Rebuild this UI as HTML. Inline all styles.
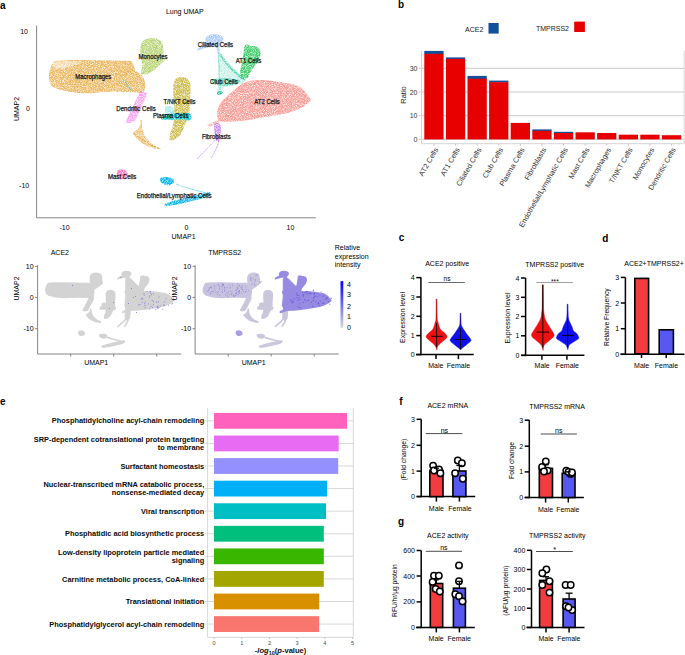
<!DOCTYPE html><html><head><meta charset="utf-8"><style>html,body{margin:0;padding:0;background:#fff;overflow:hidden;width:685px;height:655px;}svg{display:block;}text{font-family:"Liberation Sans", sans-serif;}</style></head><body>
<svg width="685" height="655" viewBox="0 0 685 655">
<rect width="685" height="655" fill="#fff"/>
<text x="0" y="8.5" font-size="10" text-anchor="start" font-weight="bold" fill="#000">a</text>
<text x="184.8" y="14.4" font-size="7" text-anchor="middle" font-weight="normal" fill="#000">Lung UMAP</text>
<line x1="36.6" y1="25.6" x2="36.6" y2="217.8" stroke="#777" stroke-width="0.9"/>
<line x1="36.6" y1="217.8" x2="315.8" y2="217.8" stroke="#777" stroke-width="0.9"/>
<text x="28" y="34" font-size="7" text-anchor="end" font-weight="normal" fill="#000">10</text>
<text x="29.8" y="110.7" font-size="7" text-anchor="end" font-weight="normal" fill="#000">0</text>
<text x="29.2" y="188.4" font-size="7" text-anchor="end" font-weight="normal" fill="#000">-10</text>
<text x="64.5" y="229.5" font-size="7" text-anchor="middle" font-weight="normal" fill="#000">-10</text>
<text x="186.5" y="229.5" font-size="7" text-anchor="middle" font-weight="normal" fill="#000">0</text>
<text x="290.4" y="229.5" font-size="7" text-anchor="middle" font-weight="normal" fill="#000">10</text>
<text x="183.6" y="238.5" font-size="7" text-anchor="middle" font-weight="normal" fill="#000">UMAP1</text>
<text x="19.2" y="109" font-size="7" text-anchor="middle" font-weight="normal" fill="#000" transform="rotate(-90 19.2 109)">UMAP2</text>
<defs><filter id="spk" x="30" y="20" width="300" height="200" filterUnits="userSpaceOnUse" color-interpolation-filters="sRGB"><feTurbulence type="fractalNoise" baseFrequency="1.1" numOctaves="2" seed="7" result="n"/><feColorMatrix in="n" type="matrix" values="0 0 0 0 0  0 0 0 0 0  0 0 0 0 0  2.2 0 0 0 -0.35" result="a"/><feGaussianBlur in="SourceGraphic" stdDeviation="0.45" result="b"/><feComposite in="b" in2="a" operator="in"/></filter></defs>
<g filter="url(#spk)">
<path d="M55,61 C75,59 110,61 131,61 C134,64 135,68 135,71 C139,73 143,75 144,79 C146,84 146,90 143,93 C125,92 110,91 95,93 C80,94 65,92 55,88 C48,85 48,75 50,70 C51,66 52,63 55,61 Z" fill="#DE8C00" fill-opacity="0.62"/>
<path d="M54,62 C60,61 70,61 78,62 C76,65 70,67 62,68.5 C57,69 53,67.5 52,66 Z" fill="#ffffff" fill-opacity="0.5"/>
<path d="M152.5,38 C158,38 162,41 163,45 C164,50 163,54 164,57 C166,59 165,61 162,63 C158,67 153,71 148,74 L141,74.5 C141.5,70 142.5,66 142,62 C140.5,58 140,52 140.5,47 C141,41 146,38 152.5,38 Z" fill="#7CAE00" fill-opacity="0.55"/>
<path d="M207,36 C211,33.5 218,33.5 222,36 C224.5,38.5 223,42 220,44 C219,47 219.5,51 219.5,54 L218,54 C217.5,50 216.5,47 214,46 C209,46 203,49 197,50.5 C197.5,48 201,46.5 206,44.5 C205,41 205,38 207,36 Z" fill="#619CFF" fill-opacity="0.55"/>
<path d="M217.5,53 L220,53 C226,60 233,67 241,75 C244,78 246,80 244,83 C238,85 230,86 224,87 L222,92 L217,94 C218,85 219,75 218.5,65 C218,60 217.5,56 217.5,53 Z" fill="#00C08B" fill-opacity="0.22"/>
<path d="M212,79 C222,78 232,78 240,80 C240,83 236,85 228,86 C220,86 214,85 212,83 Z" fill="#00C08B" fill-opacity="0.5"/>
<path d="M217,91.5 C219,90.5 222,91 223,92.5 C222,94.5 219,95 217,94.5 Z" fill="#00C08B" fill-opacity="0.9"/>
<path d="M245,45 C247,44 250,45 251,46.5 C254,45.5 258,46 259.5,49 C261,52 261,56 259,59 C257.5,62.5 255,66 252,69.5 C250,72 249,75 248,78 L241,79 C239.5,75 240,70 241.5,65 C243,60 243.5,54 244,49 C244,47 244.5,45.5 245,45 Z" fill="#00BA38" fill-opacity="0.75"/>
<path d="M222,101 C228,95 236,88 243,83 C250,80 258,79.5 268,80.5 C282,82 292,83.5 298,86 C304,89 308,95 311,100 C306,106 298,110 288,113 C272,116 256,119 240,121 C230,122 224,122 219,121 C216,117 216,108 222,101 Z" fill="#F8766D" fill-opacity="0.72"/>
<path d="M181,77 C186,77 190,79.5 190.5,85 C191,93 189.5,102 189.5,110 C189.5,116 186,122 183.6,128 C182,133 180,136 177,138 C174,140 171,141 169.5,140 C169,136 171,131 172.5,127 C174,121 174.5,114 174,106 C173.5,98 173,90 173.5,84 C174.5,79 177,77 181,77 Z" fill="#B79F00" fill-opacity="0.7"/>
<path d="M165,107 C168,105 173,106 174,109 L174,113 L165,113 Z" fill="#00BFC4" fill-opacity="0.35"/>
<path d="M161,115 C168,113 178,113 186,113 C190,112.5 192,115 191.5,118 C191,121 188,121 185,119.5 C176,119.5 167,120 161,119.5 Z" fill="#00BFC4" fill-opacity="1.0"/>
<path d="M141,124 L142,128 C143,133 146,138 150,142 C153,145 157,147 161,149 C155,149.5 148,147 143,144 C138,140 134,136 132.5,133 C136,131 139,128 141,124 Z" fill="#DE8C00" fill-opacity="0.5"/>
<path d="M140,91.5 L147,93 L146,97 L135,121 L129,123.5 L125.5,122 Z" fill="#F564E3" fill-opacity="0.58"/>
<path d="M214,124 C217,122 221,123 221,127 C221,133 220,137 219,141 L216,141 C215,136 214,130 214,124 Z" fill="#C77CFF" fill-opacity="0.95"/>
<path d="M118,170 C122,168 127,170 128,174 C129,178 124,180 120,179 C116,178 116,172 118,170 Z" fill="#FF64B0" fill-opacity="0.9"/>
<path d="M160,178 C165,176 172,177 174,180 C175,184 170,186 166,185 C162,184 159,181 160,178 Z" fill="#00B4F0" fill-opacity="1.0"/>
<path d="M164,204 C175,200 195,195 210,192 C212,194 208,197 200,199 C188,202 175,206 165,206 Z" fill="#00B4F0" fill-opacity="0.95"/>
<path d="M220,54 C224,61 230,68 237,74 C240,77 243,79 246,80" fill="none" stroke="#00C08B" stroke-opacity="0.55" stroke-width="2.2"/>
<path d="M218.5,55 C219,66 219.5,78 220,90" fill="none" stroke="#00C08B" stroke-opacity="0.35" stroke-width="1.5"/>
<path d="M141,120 L141.3,127 M133.5,133 C139,138 149,145 160.5,148.8" fill="none" stroke="#DE8C00" stroke-opacity="0.8" stroke-width="0.9"/>
<path d="M219,140 C218,146 215,152 211,158" fill="none" stroke="#C77CFF" stroke-opacity="0.9" stroke-width="1.0"/>
<path d="M216,139 C210,146 203,153 197,159" fill="none" stroke="#C77CFF" stroke-opacity="0.8" stroke-width="0.8"/>
<path d="M176,184 C185,188 196,190 206,193" fill="none" stroke="#00B4F0" stroke-opacity="0.7" stroke-width="0.8"/>
<path d="M219,121 L208,126" fill="none" stroke="#F8766D" stroke-opacity="0.5" stroke-width="3"/>
<path d="M124,80 L131,90" fill="none" stroke="#00BFC4" stroke-opacity="0.6" stroke-width="1.2"/>
</g>
<text x="93.3" y="78.8" font-size="7" text-anchor="middle" font-weight="normal" fill="#111" textLength="36.0" lengthAdjust="spacingAndGlyphs" stroke="#111" stroke-width="0.25">Macrophages</text>
<text x="153.0" y="59.4" font-size="7" text-anchor="middle" font-weight="normal" fill="#111" textLength="29.0" lengthAdjust="spacingAndGlyphs" stroke="#111" stroke-width="0.25">Monocytes</text>
<text x="215.5" y="47.2" font-size="7" text-anchor="middle" font-weight="normal" fill="#111" textLength="35.3" lengthAdjust="spacingAndGlyphs" stroke="#111" stroke-width="0.25">Ciliated Cells</text>
<text x="248.5" y="63.2" font-size="7" text-anchor="middle" font-weight="normal" fill="#111" textLength="25.4" lengthAdjust="spacingAndGlyphs" stroke="#111" stroke-width="0.25">AT1 Cells</text>
<text x="223.9" y="84.2" font-size="7" text-anchor="middle" font-weight="normal" fill="#111" textLength="27.599999999999998" lengthAdjust="spacingAndGlyphs" stroke="#111" stroke-width="0.25">Club Cells</text>
<text x="267" y="103.7" font-size="7" text-anchor="middle" font-weight="normal" fill="#111" textLength="25.4" lengthAdjust="spacingAndGlyphs" stroke="#111" stroke-width="0.25">AT2 Cells</text>
<text x="179.5" y="103.7" font-size="7" text-anchor="middle" font-weight="normal" fill="#111" textLength="32.1" lengthAdjust="spacingAndGlyphs" stroke="#111" stroke-width="0.25">T/NKT Cells</text>
<text x="136" y="111.3" font-size="7" text-anchor="middle" font-weight="normal" fill="#111" textLength="39.4" lengthAdjust="spacingAndGlyphs" stroke="#111" stroke-width="0.25">Dendritic Cells</text>
<text x="170.7" y="117.7" font-size="7" text-anchor="middle" font-weight="normal" fill="#111" textLength="35.5" lengthAdjust="spacingAndGlyphs" stroke="#111" stroke-width="0.25">Plasma Cells</text>
<text x="216.3" y="139.2" font-size="7" text-anchor="middle" font-weight="normal" fill="#111" textLength="28.7" lengthAdjust="spacingAndGlyphs" stroke="#111" stroke-width="0.25">Fibroblasts</text>
<text x="122.1" y="179.2" font-size="7" text-anchor="middle" font-weight="normal" fill="#111" textLength="28.4" lengthAdjust="spacingAndGlyphs" stroke="#111" stroke-width="0.25">Mast Cells</text>
<text x="174.2" y="198.4" font-size="7" text-anchor="middle" font-weight="normal" fill="#111" textLength="75.0" lengthAdjust="spacingAndGlyphs" stroke="#111" stroke-width="0.25">Endothelial/Lymphatic Cells</text>
<text x="50.7" y="255.3" font-size="7" text-anchor="start" font-weight="normal" fill="#000">ACE2</text>
<line x1="37.6" y1="265.2" x2="37.6" y2="354" stroke="#777" stroke-width="0.9"/>
<line x1="37.6" y1="354" x2="181.2" y2="354" stroke="#777" stroke-width="0.9"/>
<line x1="35.1" y1="266.4" x2="37.6" y2="266.4" stroke="#777" stroke-width="0.9"/>
<text x="33.6" y="268.9" font-size="7" text-anchor="end" font-weight="normal" fill="#000">10</text>
<line x1="35.1" y1="297.4" x2="37.6" y2="297.4" stroke="#777" stroke-width="0.9"/>
<text x="33.6" y="299.9" font-size="7" text-anchor="end" font-weight="normal" fill="#000">0</text>
<line x1="35.1" y1="328.7" x2="37.6" y2="328.7" stroke="#777" stroke-width="0.9"/>
<text x="33.6" y="331.2" font-size="7" text-anchor="end" font-weight="normal" fill="#000">-10</text>
<line x1="70.7" y1="354" x2="70.7" y2="356.5" stroke="#777" stroke-width="0.9"/>
<line x1="113.7" y1="354" x2="113.7" y2="356.5" stroke="#777" stroke-width="0.9"/>
<line x1="156.7" y1="354" x2="156.7" y2="356.5" stroke="#777" stroke-width="0.9"/>
<text x="96.2" y="365.2" font-size="7" text-anchor="middle" font-weight="normal" fill="#000">UMAP1</text>
<text x="19.3" y="288.5" font-size="7" text-anchor="middle" font-weight="normal" fill="#000" transform="rotate(-90 19.3 288.5)">UMAP2</text>
<g transform="matrix(0.487,0,0,0.44,22.0,256.54)">
<path d="M213,50 L223,50 C233,62 243,72 252,80 L232,95 L224,108 L216,122 L211,112 L213,92 Z" fill="#d3d3d3" stroke="#d3d3d3" stroke-width="2" stroke-linejoin="round"/>
<path d="M216,104 L226,100 L230,118 L222,124 L212,126 Z" fill="#d3d3d3" stroke="#d3d3d3" stroke-width="2" stroke-linejoin="round"/>
<path d="M212,124 L222,124 L221,140 L216,146 L212,140 Z" fill="#d3d3d3" stroke="#d3d3d3" stroke-width="2" stroke-linejoin="round"/>
<path d="M132,60 L146,62 L148,80 L146,94 L138,96 L134,80 Z" fill="#d3d3d3" stroke="#d3d3d3" stroke-width="2" stroke-linejoin="round"/>
<path d="M55,61 C75,59 110,61 131,61 C134,64 135,68 135,71 C139,73 143,75 144,79 C146,84 146,90 143,93 C125,92 110,91 95,93 C80,94 65,92 55,88 C48,85 48,75 50,70 C51,66 52,63 55,61 Z" fill="#d3d3d3" stroke="#d3d3d3" stroke-width="3" stroke-linejoin="round"/>
<path d="M54,62 C60,61 70,61 78,62 C76,65 70,67 62,68.5 C57,69 53,67.5 52,66 Z" fill="#d3d3d3" stroke="#d3d3d3" stroke-width="3" stroke-linejoin="round"/>
<path d="M152.5,38 C158,38 162,41 163,45 C164,50 163,54 164,57 C166,59 165,61 162,63 C158,67 153,71 148,74 L141,74.5 C141.5,70 142.5,66 142,62 C140.5,58 140,52 140.5,47 C141,41 146,38 152.5,38 Z" fill="#d3d3d3" stroke="#d3d3d3" stroke-width="3" stroke-linejoin="round"/>
<path d="M207,36 C211,33.5 218,33.5 222,36 C224.5,38.5 223,42 220,44 C219,47 219.5,51 219.5,54 L218,54 C217.5,50 216.5,47 214,46 C209,46 203,49 197,50.5 C197.5,48 201,46.5 206,44.5 C205,41 205,38 207,36 Z" fill="#d3d3d3" stroke="#d3d3d3" stroke-width="3" stroke-linejoin="round"/>
<path d="M217.5,53 L220,53 C226,60 233,67 241,75 C244,78 246,80 244,83 C238,85 230,86 224,87 L222,92 L217,94 C218,85 219,75 218.5,65 C218,60 217.5,56 217.5,53 Z" fill="#d3d3d3" stroke="#d3d3d3" stroke-width="3" stroke-linejoin="round"/>
<path d="M212,79 C222,78 232,78 240,80 C240,83 236,85 228,86 C220,86 214,85 212,83 Z" fill="#d3d3d3" stroke="#d3d3d3" stroke-width="3" stroke-linejoin="round"/>
<path d="M217,91.5 C219,90.5 222,91 223,92.5 C222,94.5 219,95 217,94.5 Z" fill="#d3d3d3" stroke="#d3d3d3" stroke-width="3" stroke-linejoin="round"/>
<path d="M245,45 C247,44 250,45 251,46.5 C254,45.5 258,46 259.5,49 C261,52 261,56 259,59 C257.5,62.5 255,66 252,69.5 C250,72 249,75 248,78 L241,79 C239.5,75 240,70 241.5,65 C243,60 243.5,54 244,49 C244,47 244.5,45.5 245,45 Z" fill="#d3d3d3" stroke="#d3d3d3" stroke-width="3" stroke-linejoin="round"/>
<path d="M222,101 C228,95 236,88 243,83 C250,80 258,79.5 268,80.5 C282,82 292,83.5 298,86 C304,89 308,95 311,100 C306,106 298,110 288,113 C272,116 256,119 240,121 C230,122 224,122 219,121 C216,117 216,108 222,101 Z" fill="#d3d3d3" stroke="#d3d3d3" stroke-width="3" stroke-linejoin="round"/>
<path d="M181,77 C186,77 190,79.5 190.5,85 C191,93 189.5,102 189.5,110 C189.5,116 186,122 183.6,128 C182,133 180,136 177,138 C174,140 171,141 169.5,140 C169,136 171,131 172.5,127 C174,121 174.5,114 174,106 C173.5,98 173,90 173.5,84 C174.5,79 177,77 181,77 Z" fill="#d3d3d3" stroke="#d3d3d3" stroke-width="3" stroke-linejoin="round"/>
<path d="M165,107 C168,105 173,106 174,109 L174,113 L165,113 Z" fill="#d3d3d3" stroke="#d3d3d3" stroke-width="3" stroke-linejoin="round"/>
<path d="M161,115 C168,113 178,113 186,113 C190,112.5 192,115 191.5,118 C191,121 188,121 185,119.5 C176,119.5 167,120 161,119.5 Z" fill="#d3d3d3" stroke="#d3d3d3" stroke-width="3" stroke-linejoin="round"/>
<path d="M141,124 L142,128 C143,133 146,138 150,142 C153,145 157,147 161,149 C155,149.5 148,147 143,144 C138,140 134,136 132.5,133 C136,131 139,128 141,124 Z" fill="#d3d3d3" stroke="#d3d3d3" stroke-width="3" stroke-linejoin="round"/>
<path d="M140,91.5 L147,93 L146,97 L135,121 L129,123.5 L125.5,122 Z" fill="#d3d3d3" stroke="#d3d3d3" stroke-width="3" stroke-linejoin="round"/>
<path d="M214,124 C217,122 221,123 221,127 C221,133 220,137 219,141 L216,141 C215,136 214,130 214,124 Z" fill="#d3d3d3" stroke="#d3d3d3" stroke-width="3" stroke-linejoin="round"/>
<path d="M118,170 C122,168 127,170 128,174 C129,178 124,180 120,179 C116,178 116,172 118,170 Z" fill="#d3d3d3" stroke="#d3d3d3" stroke-width="3" stroke-linejoin="round"/>
<path d="M160,178 C165,176 172,177 174,180 C175,184 170,186 166,185 C162,184 159,181 160,178 Z" fill="#d3d3d3" stroke="#d3d3d3" stroke-width="3" stroke-linejoin="round"/>
<path d="M164,204 C175,200 195,195 210,192 C212,194 208,197 200,199 C188,202 175,206 165,206 Z" fill="#d3d3d3" stroke="#d3d3d3" stroke-width="3" stroke-linejoin="round"/>
<path d="M220,54 C224,61 230,68 237,74 C240,77 243,79 246,80" fill="none" stroke="#d3d3d3" stroke-width="4.7" stroke-linecap="round"/>
<path d="M218.5,55 C219,66 219.5,78 220,90" fill="none" stroke="#d3d3d3" stroke-width="4.0" stroke-linecap="round"/>
<path d="M141,120 L141.3,127 M133.5,133 C139,138 149,145 160.5,148.8" fill="none" stroke="#d3d3d3" stroke-width="3.4" stroke-linecap="round"/>
<path d="M219,140 C218,146 215,152 211,158" fill="none" stroke="#d3d3d3" stroke-width="3.5" stroke-linecap="round"/>
<path d="M216,139 C210,146 203,153 197,159" fill="none" stroke="#d3d3d3" stroke-width="3.3" stroke-linecap="round"/>
<path d="M176,184 C185,188 196,190 206,193" fill="none" stroke="#d3d3d3" stroke-width="3.3" stroke-linecap="round"/>
<path d="M219,121 L208,126" fill="none" stroke="#d3d3d3" stroke-width="5.5" stroke-linecap="round"/>
</g>
<rect x="156.7" y="306.3" width="0.9" height="0.9" fill="#6b5bd6" fill-opacity="0.8"/>
<rect x="171.4" y="303.5" width="0.9" height="0.9" fill="#6b5bd6" fill-opacity="0.8"/>
<rect x="149.6" y="291.4" width="0.9" height="0.9" fill="#6b5bd6" fill-opacity="0.8"/>
<rect x="153.0" y="301.2" width="0.9" height="0.9" fill="#6b5bd6" fill-opacity="0.8"/>
<rect x="152.8" y="304.3" width="0.9" height="0.9" fill="#6b5bd6" fill-opacity="0.8"/>
<rect x="169.1" y="293.0" width="0.9" height="0.9" fill="#6b5bd6" fill-opacity="0.8"/>
<rect x="141.9" y="302.1" width="0.9" height="0.9" fill="#6b5bd6" fill-opacity="0.8"/>
<rect x="143.5" y="293.3" width="0.9" height="0.9" fill="#6b5bd6" fill-opacity="0.8"/>
<rect x="165.7" y="298.4" width="0.9" height="0.9" fill="#6b5bd6" fill-opacity="0.8"/>
<rect x="142.5" y="298.4" width="0.9" height="0.9" fill="#6b5bd6" fill-opacity="0.8"/>
<rect x="144.8" y="301.4" width="0.9" height="0.9" fill="#6b5bd6" fill-opacity="0.8"/>
<rect x="143.8" y="294.6" width="0.9" height="0.9" fill="#6b5bd6" fill-opacity="0.8"/>
<rect x="152.1" y="307.3" width="0.9" height="0.9" fill="#6b5bd6" fill-opacity="0.8"/>
<rect x="153.1" y="293.4" width="0.9" height="0.9" fill="#6b5bd6" fill-opacity="0.8"/>
<rect x="173.4" y="300.0" width="0.9" height="0.9" fill="#6b5bd6" fill-opacity="0.8"/>
<rect x="146.7" y="291.1" width="0.9" height="0.9" fill="#6b5bd6" fill-opacity="0.8"/>
<rect x="155.3" y="308.8" width="0.9" height="0.9" fill="#6b5bd6" fill-opacity="0.8"/>
<rect x="149.0" y="296.7" width="0.9" height="0.9" fill="#6b5bd6" fill-opacity="0.8"/>
<rect x="157.0" y="307.6" width="0.9" height="0.9" fill="#6b5bd6" fill-opacity="0.8"/>
<rect x="132.9" y="297.0" width="0.9" height="0.9" fill="#6b5bd6" fill-opacity="0.8"/>
<rect x="141.6" y="297.6" width="0.9" height="0.9" fill="#6b5bd6" fill-opacity="0.8"/>
<rect x="172.9" y="297.6" width="0.9" height="0.9" fill="#6b5bd6" fill-opacity="0.8"/>
<rect x="150.5" y="305.9" width="0.9" height="0.9" fill="#6b5bd6" fill-opacity="0.8"/>
<rect x="150.0" y="292.7" width="0.9" height="0.9" fill="#6b5bd6" fill-opacity="0.8"/>
<rect x="172.2" y="302.8" width="0.9" height="0.9" fill="#6b5bd6" fill-opacity="0.8"/>
<rect x="151.0" y="294.2" width="0.9" height="0.9" fill="#6b5bd6" fill-opacity="0.8"/>
<rect x="144.6" y="307.6" width="0.9" height="0.9" fill="#6b5bd6" fill-opacity="0.8"/>
<rect x="163.6" y="304.8" width="0.9" height="0.9" fill="#6b5bd6" fill-opacity="0.8"/>
<rect x="158.5" y="306.8" width="0.9" height="0.9" fill="#6b5bd6" fill-opacity="0.8"/>
<rect x="144.7" y="305.1" width="0.9" height="0.9" fill="#6b5bd6" fill-opacity="0.8"/>
<rect x="140.9" y="298.6" width="0.9" height="0.9" fill="#6b5bd6" fill-opacity="0.8"/>
<rect x="163.4" y="304.7" width="0.9" height="0.9" fill="#6b5bd6" fill-opacity="0.8"/>
<rect x="157.9" y="301.4" width="0.9" height="0.9" fill="#6b5bd6" fill-opacity="0.8"/>
<rect x="139.5" y="304.1" width="0.9" height="0.9" fill="#6b5bd6" fill-opacity="0.8"/>
<rect x="149.3" y="308.5" width="0.9" height="0.9" fill="#6b5bd6" fill-opacity="0.8"/>
<rect x="157.8" y="307.9" width="0.9" height="0.9" fill="#6b5bd6" fill-opacity="0.8"/>
<rect x="144.0" y="303.3" width="0.9" height="0.9" fill="#6b5bd6" fill-opacity="0.8"/>
<rect x="161.9" y="308.8" width="0.9" height="0.9" fill="#6b5bd6" fill-opacity="0.8"/>
<rect x="168.0" y="304.7" width="0.9" height="0.9" fill="#6b5bd6" fill-opacity="0.8"/>
<rect x="151.8" y="299.9" width="0.9" height="0.9" fill="#6b5bd6" fill-opacity="0.8"/>
<rect x="171.1" y="298.3" width="0.9" height="0.9" fill="#6b5bd6" fill-opacity="0.8"/>
<rect x="159.8" y="305.6" width="0.9" height="0.9" fill="#6b5bd6" fill-opacity="0.8"/>
<rect x="163.9" y="301.4" width="0.9" height="0.9" fill="#6b5bd6" fill-opacity="0.8"/>
<rect x="158.6" y="296.6" width="0.9" height="0.9" fill="#6b5bd6" fill-opacity="0.8"/>
<rect x="156.7" y="307.2" width="0.9" height="0.9" fill="#6b5bd6" fill-opacity="0.8"/>
<rect x="157.3" y="305.6" width="0.9" height="0.9" fill="#6b5bd6" fill-opacity="0.8"/>
<rect x="148.3" y="303.5" width="0.9" height="0.9" fill="#6b5bd6" fill-opacity="0.8"/>
<rect x="138.1" y="304.6" width="0.9" height="0.9" fill="#6b5bd6" fill-opacity="0.8"/>
<rect x="149.7" y="290.8" width="0.9" height="0.9" fill="#6b5bd6" fill-opacity="0.8"/>
<rect x="149.4" y="295.4" width="0.9" height="0.9" fill="#6b5bd6" fill-opacity="0.8"/>
<rect x="156.1" y="301.7" width="0.9" height="0.9" fill="#6b5bd6" fill-opacity="0.8"/>
<rect x="120.5" y="277.0" width="0.9" height="0.9" fill="#6b5bd6" fill-opacity="0.8"/>
<rect x="131.0" y="288.0" width="0.9" height="0.9" fill="#6b5bd6" fill-opacity="0.8"/>
<rect x="135.0" y="296.0" width="0.9" height="0.9" fill="#6b5bd6" fill-opacity="0.8"/>
<rect x="72.0" y="285.0" width="0.9" height="0.9" fill="#6b5bd6" fill-opacity="0.8"/>
<rect x="109.0" y="308.0" width="0.9" height="0.9" fill="#6b5bd6" fill-opacity="0.8"/>
<rect x="113.0" y="302.0" width="0.9" height="0.9" fill="#6b5bd6" fill-opacity="0.8"/>
<rect x="128.0" y="303.0" width="0.9" height="0.9" fill="#6b5bd6" fill-opacity="0.8"/>
<rect x="136.0" y="312.0" width="0.9" height="0.9" fill="#6b5bd6" fill-opacity="0.8"/>
<text x="208.2" y="255.3" font-size="7" text-anchor="start" font-weight="normal" fill="#000">TMPRSS2</text>
<line x1="195.1" y1="265.2" x2="195.1" y2="354" stroke="#777" stroke-width="0.9"/>
<line x1="195.1" y1="354" x2="338.7" y2="354" stroke="#777" stroke-width="0.9"/>
<line x1="192.6" y1="266.4" x2="195.1" y2="266.4" stroke="#777" stroke-width="0.9"/>
<text x="191.1" y="268.9" font-size="7" text-anchor="end" font-weight="normal" fill="#000">10</text>
<line x1="192.6" y1="297.4" x2="195.1" y2="297.4" stroke="#777" stroke-width="0.9"/>
<text x="191.1" y="299.9" font-size="7" text-anchor="end" font-weight="normal" fill="#000">0</text>
<line x1="192.6" y1="328.7" x2="195.1" y2="328.7" stroke="#777" stroke-width="0.9"/>
<text x="191.1" y="331.2" font-size="7" text-anchor="end" font-weight="normal" fill="#000">-10</text>
<line x1="228.2" y1="354" x2="228.2" y2="356.5" stroke="#777" stroke-width="0.9"/>
<line x1="271.2" y1="354" x2="271.2" y2="356.5" stroke="#777" stroke-width="0.9"/>
<line x1="314.2" y1="354" x2="314.2" y2="356.5" stroke="#777" stroke-width="0.9"/>
<text x="253.7" y="365.2" font-size="7" text-anchor="middle" font-weight="normal" fill="#000">UMAP1</text>
<text x="176.8" y="288.5" font-size="7" text-anchor="middle" font-weight="normal" fill="#000" transform="rotate(-90 176.8 288.5)">UMAP2</text>
<g transform="matrix(0.487,0,0,0.44,179.5,256.54)">
<path d="M213,50 L223,50 C233,62 243,72 252,80 L232,95 L224,108 L216,122 L211,112 L213,92 Z" fill="#968ae2" stroke="#968ae2" stroke-width="2" stroke-linejoin="round"/>
<path d="M216,104 L226,100 L230,118 L222,124 L212,126 Z" fill="#968ae2" stroke="#968ae2" stroke-width="2" stroke-linejoin="round"/>
<path d="M212,124 L222,124 L221,140 L216,146 L212,140 Z" fill="#cac7dc" stroke="#cac7dc" stroke-width="2" stroke-linejoin="round"/>
<path d="M132,60 L146,62 L148,80 L146,94 L138,96 L134,80 Z" fill="#c8c3df" stroke="#c8c3df" stroke-width="2" stroke-linejoin="round"/>
<path d="M55,61 C75,59 110,61 131,61 C134,64 135,68 135,71 C139,73 143,75 144,79 C146,84 146,90 143,93 C125,92 110,91 95,93 C80,94 65,92 55,88 C48,85 48,75 50,70 C51,66 52,63 55,61 Z" fill="#c8c3df" stroke="#c8c3df" stroke-width="3" stroke-linejoin="round"/>
<path d="M54,62 C60,61 70,61 78,62 C76,65 70,67 62,68.5 C57,69 53,67.5 52,66 Z" fill="#c8c3df" stroke="#c8c3df" stroke-width="3" stroke-linejoin="round"/>
<path d="M152.5,38 C158,38 162,41 163,45 C164,50 163,54 164,57 C166,59 165,61 162,63 C158,67 153,71 148,74 L141,74.5 C141.5,70 142.5,66 142,62 C140.5,58 140,52 140.5,47 C141,41 146,38 152.5,38 Z" fill="#cac7dc" stroke="#cac7dc" stroke-width="3" stroke-linejoin="round"/>
<path d="M207,36 C211,33.5 218,33.5 222,36 C224.5,38.5 223,42 220,44 C219,47 219.5,51 219.5,54 L218,54 C217.5,50 216.5,47 214,46 C209,46 203,49 197,50.5 C197.5,48 201,46.5 206,44.5 C205,41 205,38 207,36 Z" fill="#968ae2" stroke="#968ae2" stroke-width="3" stroke-linejoin="round"/>
<path d="M217.5,53 L220,53 C226,60 233,67 241,75 C244,78 246,80 244,83 C238,85 230,86 224,87 L222,92 L217,94 C218,85 219,75 218.5,65 C218,60 217.5,56 217.5,53 Z" fill="#968ae2" stroke="#968ae2" stroke-width="3" stroke-linejoin="round"/>
<path d="M212,79 C222,78 232,78 240,80 C240,83 236,85 228,86 C220,86 214,85 212,83 Z" fill="#968ae2" stroke="#968ae2" stroke-width="3" stroke-linejoin="round"/>
<path d="M217,91.5 C219,90.5 222,91 223,92.5 C222,94.5 219,95 217,94.5 Z" fill="#968ae2" stroke="#968ae2" stroke-width="3" stroke-linejoin="round"/>
<path d="M245,45 C247,44 250,45 251,46.5 C254,45.5 258,46 259.5,49 C261,52 261,56 259,59 C257.5,62.5 255,66 252,69.5 C250,72 249,75 248,78 L241,79 C239.5,75 240,70 241.5,65 C243,60 243.5,54 244,49 C244,47 244.5,45.5 245,45 Z" fill="#968ae2" stroke="#968ae2" stroke-width="3" stroke-linejoin="round"/>
<path d="M222,101 C228,95 236,88 243,83 C250,80 258,79.5 268,80.5 C282,82 292,83.5 298,86 C304,89 308,95 311,100 C306,106 298,110 288,113 C272,116 256,119 240,121 C230,122 224,122 219,121 C216,117 216,108 222,101 Z" fill="#968ae2" stroke="#968ae2" stroke-width="3" stroke-linejoin="round"/>
<path d="M181,77 C186,77 190,79.5 190.5,85 C191,93 189.5,102 189.5,110 C189.5,116 186,122 183.6,128 C182,133 180,136 177,138 C174,140 171,141 169.5,140 C169,136 171,131 172.5,127 C174,121 174.5,114 174,106 C173.5,98 173,90 173.5,84 C174.5,79 177,77 181,77 Z" fill="#cac7dc" stroke="#cac7dc" stroke-width="3" stroke-linejoin="round"/>
<path d="M165,107 C168,105 173,106 174,109 L174,113 L165,113 Z" fill="#cac7dc" stroke="#cac7dc" stroke-width="3" stroke-linejoin="round"/>
<path d="M161,115 C168,113 178,113 186,113 C190,112.5 192,115 191.5,118 C191,121 188,121 185,119.5 C176,119.5 167,120 161,119.5 Z" fill="#cac7dc" stroke="#cac7dc" stroke-width="3" stroke-linejoin="round"/>
<path d="M141,124 L142,128 C143,133 146,138 150,142 C153,145 157,147 161,149 C155,149.5 148,147 143,144 C138,140 134,136 132.5,133 C136,131 139,128 141,124 Z" fill="#cac7dc" stroke="#cac7dc" stroke-width="3" stroke-linejoin="round"/>
<path d="M140,91.5 L147,93 L146,97 L135,121 L129,123.5 L125.5,122 Z" fill="#cac7dc" stroke="#cac7dc" stroke-width="3" stroke-linejoin="round"/>
<path d="M214,124 C217,122 221,123 221,127 C221,133 220,137 219,141 L216,141 C215,136 214,130 214,124 Z" fill="#cac7dc" stroke="#cac7dc" stroke-width="3" stroke-linejoin="round"/>
<path d="M118,170 C122,168 127,170 128,174 C129,178 124,180 120,179 C116,178 116,172 118,170 Z" fill="#a79de4" stroke="#a79de4" stroke-width="3" stroke-linejoin="round"/>
<path d="M160,178 C165,176 172,177 174,180 C175,184 170,186 166,185 C162,184 159,181 160,178 Z" fill="#cac7dc" stroke="#cac7dc" stroke-width="3" stroke-linejoin="round"/>
<path d="M164,204 C175,200 195,195 210,192 C212,194 208,197 200,199 C188,202 175,206 165,206 Z" fill="#cac7dc" stroke="#cac7dc" stroke-width="3" stroke-linejoin="round"/>
<path d="M220,54 C224,61 230,68 237,74 C240,77 243,79 246,80" fill="none" stroke="#968ae2" stroke-width="4.7" stroke-linecap="round"/>
<path d="M218.5,55 C219,66 219.5,78 220,90" fill="none" stroke="#968ae2" stroke-width="4.0" stroke-linecap="round"/>
<path d="M141,120 L141.3,127 M133.5,133 C139,138 149,145 160.5,148.8" fill="none" stroke="#c8c4dd" stroke-width="3.4" stroke-linecap="round"/>
<path d="M219,140 C218,146 215,152 211,158" fill="none" stroke="#c8c4dd" stroke-width="3.5" stroke-linecap="round"/>
<path d="M216,139 C210,146 203,153 197,159" fill="none" stroke="#c8c4dd" stroke-width="3.3" stroke-linecap="round"/>
<path d="M176,184 C185,188 196,190 206,193" fill="none" stroke="#c8c4dd" stroke-width="3.3" stroke-linecap="round"/>
<path d="M219,121 L208,126" fill="none" stroke="#968ae2" stroke-width="5.5" stroke-linecap="round"/>
</g>
<rect x="298.3" y="295.1" width="0.9" height="0.9" fill="#5a48dc" fill-opacity="0.85"/>
<rect x="310.6" y="292.9" width="0.9" height="0.9" fill="#5a48dc" fill-opacity="0.85"/>
<rect x="323.2" y="295.4" width="0.9" height="0.9" fill="#5a48dc" fill-opacity="0.85"/>
<rect x="322.9" y="302.6" width="0.9" height="0.9" fill="#5a48dc" fill-opacity="0.85"/>
<rect x="312.9" y="300.0" width="0.9" height="0.9" fill="#5a48dc" fill-opacity="0.85"/>
<rect x="313.5" y="293.2" width="0.9" height="0.9" fill="#5a48dc" fill-opacity="0.85"/>
<rect x="290.5" y="300.1" width="0.9" height="0.9" fill="#5a48dc" fill-opacity="0.85"/>
<rect x="302.8" y="295.8" width="0.9" height="0.9" fill="#5a48dc" fill-opacity="0.85"/>
<rect x="312.9" y="290.3" width="0.9" height="0.9" fill="#5a48dc" fill-opacity="0.85"/>
<rect x="330.6" y="297.9" width="0.9" height="0.9" fill="#5a48dc" fill-opacity="0.85"/>
<rect x="304.6" y="292.2" width="0.9" height="0.9" fill="#5a48dc" fill-opacity="0.85"/>
<rect x="330.8" y="297.7" width="0.9" height="0.9" fill="#5a48dc" fill-opacity="0.85"/>
<rect x="298.7" y="297.3" width="0.9" height="0.9" fill="#5a48dc" fill-opacity="0.85"/>
<rect x="291.1" y="301.9" width="0.9" height="0.9" fill="#5a48dc" fill-opacity="0.85"/>
<rect x="305.9" y="291.4" width="0.9" height="0.9" fill="#5a48dc" fill-opacity="0.85"/>
<rect x="313.5" y="297.2" width="0.9" height="0.9" fill="#5a48dc" fill-opacity="0.85"/>
<rect x="315.2" y="301.3" width="0.9" height="0.9" fill="#5a48dc" fill-opacity="0.85"/>
<rect x="320.5" y="291.6" width="0.9" height="0.9" fill="#5a48dc" fill-opacity="0.85"/>
<rect x="310.0" y="292.8" width="0.9" height="0.9" fill="#5a48dc" fill-opacity="0.85"/>
<rect x="299.2" y="299.0" width="0.9" height="0.9" fill="#5a48dc" fill-opacity="0.85"/>
<rect x="306.9" y="293.6" width="0.9" height="0.9" fill="#5a48dc" fill-opacity="0.85"/>
<rect x="319.8" y="300.9" width="0.9" height="0.9" fill="#5a48dc" fill-opacity="0.85"/>
<rect x="326.3" y="299.5" width="0.9" height="0.9" fill="#5a48dc" fill-opacity="0.85"/>
<rect x="305.2" y="300.4" width="0.9" height="0.9" fill="#5a48dc" fill-opacity="0.85"/>
<rect x="318.1" y="302.2" width="0.9" height="0.9" fill="#5a48dc" fill-opacity="0.85"/>
<rect x="303.2" y="294.5" width="0.9" height="0.9" fill="#5a48dc" fill-opacity="0.85"/>
<rect x="317.5" y="295.9" width="0.9" height="0.9" fill="#5a48dc" fill-opacity="0.85"/>
<rect x="298.7" y="307.0" width="0.9" height="0.9" fill="#5a48dc" fill-opacity="0.85"/>
<rect x="307.5" y="299.6" width="0.9" height="0.9" fill="#5a48dc" fill-opacity="0.85"/>
<rect x="308.4" y="292.6" width="0.9" height="0.9" fill="#5a48dc" fill-opacity="0.85"/>
<rect x="292.6" y="300.7" width="0.9" height="0.9" fill="#5a48dc" fill-opacity="0.85"/>
<rect x="321.9" y="303.2" width="0.9" height="0.9" fill="#5a48dc" fill-opacity="0.85"/>
<rect x="292.4" y="301.5" width="0.9" height="0.9" fill="#5a48dc" fill-opacity="0.85"/>
<rect x="312.0" y="305.8" width="0.9" height="0.9" fill="#5a48dc" fill-opacity="0.85"/>
<rect x="305.4" y="292.1" width="0.9" height="0.9" fill="#5a48dc" fill-opacity="0.85"/>
<rect x="313.1" y="297.7" width="0.9" height="0.9" fill="#5a48dc" fill-opacity="0.85"/>
<rect x="292.5" y="302.2" width="0.9" height="0.9" fill="#5a48dc" fill-opacity="0.85"/>
<rect x="311.0" y="301.9" width="0.9" height="0.9" fill="#5a48dc" fill-opacity="0.85"/>
<rect x="297.6" y="299.7" width="0.9" height="0.9" fill="#5a48dc" fill-opacity="0.85"/>
<rect x="297.2" y="306.0" width="0.9" height="0.9" fill="#5a48dc" fill-opacity="0.85"/>
<rect x="296.3" y="293.9" width="0.9" height="0.9" fill="#5a48dc" fill-opacity="0.85"/>
<rect x="318.3" y="303.0" width="0.9" height="0.9" fill="#5a48dc" fill-opacity="0.85"/>
<rect x="312.8" y="289.6" width="0.9" height="0.9" fill="#5a48dc" fill-opacity="0.85"/>
<rect x="325.8" y="297.4" width="0.9" height="0.9" fill="#5a48dc" fill-opacity="0.85"/>
<rect x="300.4" y="307.5" width="0.9" height="0.9" fill="#5a48dc" fill-opacity="0.85"/>
<rect x="329.3" y="303.8" width="0.9" height="0.9" fill="#5a48dc" fill-opacity="0.85"/>
<rect x="314.2" y="293.3" width="0.9" height="0.9" fill="#5a48dc" fill-opacity="0.85"/>
<rect x="296.3" y="292.7" width="0.9" height="0.9" fill="#5a48dc" fill-opacity="0.85"/>
<rect x="313.7" y="293.2" width="0.9" height="0.9" fill="#5a48dc" fill-opacity="0.85"/>
<rect x="323.7" y="302.7" width="0.9" height="0.9" fill="#5a48dc" fill-opacity="0.85"/>
<rect x="322.5" y="295.9" width="0.9" height="0.9" fill="#5a48dc" fill-opacity="0.85"/>
<rect x="324.7" y="298.6" width="0.9" height="0.9" fill="#5a48dc" fill-opacity="0.85"/>
<rect x="312.8" y="300.3" width="0.9" height="0.9" fill="#5a48dc" fill-opacity="0.85"/>
<rect x="319.5" y="294.7" width="0.9" height="0.9" fill="#5a48dc" fill-opacity="0.85"/>
<rect x="326.4" y="297.4" width="0.9" height="0.9" fill="#5a48dc" fill-opacity="0.85"/>
<rect x="314.0" y="295.7" width="0.9" height="0.9" fill="#5a48dc" fill-opacity="0.85"/>
<rect x="302.7" y="294.3" width="0.9" height="0.9" fill="#5a48dc" fill-opacity="0.85"/>
<rect x="296.3" y="297.4" width="0.9" height="0.9" fill="#5a48dc" fill-opacity="0.85"/>
<rect x="317.1" y="303.6" width="0.9" height="0.9" fill="#5a48dc" fill-opacity="0.85"/>
<rect x="298.9" y="303.6" width="0.9" height="0.9" fill="#5a48dc" fill-opacity="0.85"/>
<rect x="302.3" y="292.0" width="0.9" height="0.9" fill="#5a48dc" fill-opacity="0.85"/>
<rect x="307.0" y="291.1" width="0.9" height="0.9" fill="#5a48dc" fill-opacity="0.85"/>
<rect x="319.2" y="305.0" width="0.9" height="0.9" fill="#5a48dc" fill-opacity="0.85"/>
<rect x="315.2" y="295.8" width="0.9" height="0.9" fill="#5a48dc" fill-opacity="0.85"/>
<rect x="309.4" y="293.2" width="0.9" height="0.9" fill="#5a48dc" fill-opacity="0.85"/>
<rect x="326.8" y="297.7" width="0.9" height="0.9" fill="#5a48dc" fill-opacity="0.85"/>
<rect x="297.2" y="295.0" width="0.9" height="0.9" fill="#5a48dc" fill-opacity="0.85"/>
<rect x="293.8" y="298.3" width="0.9" height="0.9" fill="#5a48dc" fill-opacity="0.85"/>
<rect x="304.0" y="299.0" width="0.9" height="0.9" fill="#5a48dc" fill-opacity="0.85"/>
<rect x="290.5" y="299.3" width="0.9" height="0.9" fill="#5a48dc" fill-opacity="0.85"/>
<rect x="327.9" y="301.1" width="0.9" height="0.9" fill="#5a48dc" fill-opacity="0.85"/>
<rect x="307.9" y="300.3" width="0.9" height="0.9" fill="#5a48dc" fill-opacity="0.85"/>
<rect x="302.8" y="302.0" width="0.9" height="0.9" fill="#5a48dc" fill-opacity="0.85"/>
<rect x="219.0" y="288.7" width="0.8" height="0.8" fill="#7465d8" fill-opacity="0.7"/>
<rect x="241.9" y="285.4" width="0.8" height="0.8" fill="#7465d8" fill-opacity="0.7"/>
<rect x="210.6" y="286.7" width="0.8" height="0.8" fill="#7465d8" fill-opacity="0.7"/>
<rect x="241.6" y="286.7" width="0.8" height="0.8" fill="#7465d8" fill-opacity="0.7"/>
<rect x="224.4" y="290.7" width="0.8" height="0.8" fill="#7465d8" fill-opacity="0.7"/>
<rect x="214.3" y="286.3" width="0.8" height="0.8" fill="#7465d8" fill-opacity="0.7"/>
<rect x="221.9" y="283.5" width="0.8" height="0.8" fill="#7465d8" fill-opacity="0.7"/>
<rect x="224.0" y="286.7" width="0.8" height="0.8" fill="#7465d8" fill-opacity="0.7"/>
<rect x="238.6" y="290.3" width="0.8" height="0.8" fill="#7465d8" fill-opacity="0.7"/>
<rect x="244.9" y="291.8" width="0.8" height="0.8" fill="#7465d8" fill-opacity="0.7"/>
<rect x="238.9" y="290.6" width="0.8" height="0.8" fill="#7465d8" fill-opacity="0.7"/>
<rect x="225.0" y="294.3" width="0.8" height="0.8" fill="#7465d8" fill-opacity="0.7"/>
<rect x="237.5" y="292.5" width="0.8" height="0.8" fill="#7465d8" fill-opacity="0.7"/>
<rect x="217.3" y="294.2" width="0.8" height="0.8" fill="#7465d8" fill-opacity="0.7"/>
<rect x="222.3" y="284.0" width="0.8" height="0.8" fill="#7465d8" fill-opacity="0.7"/>
<rect x="217.1" y="292.1" width="0.8" height="0.8" fill="#7465d8" fill-opacity="0.7"/>
<rect x="239.1" y="290.4" width="0.8" height="0.8" fill="#7465d8" fill-opacity="0.7"/>
<rect x="211.2" y="287.4" width="0.8" height="0.8" fill="#7465d8" fill-opacity="0.7"/>
<rect x="232.4" y="285.5" width="0.8" height="0.8" fill="#7465d8" fill-opacity="0.7"/>
<rect x="224.4" y="287.4" width="0.8" height="0.8" fill="#7465d8" fill-opacity="0.7"/>
<rect x="231.2" y="294.4" width="0.8" height="0.8" fill="#7465d8" fill-opacity="0.7"/>
<rect x="237.5" y="283.4" width="0.8" height="0.8" fill="#7465d8" fill-opacity="0.7"/>
<rect x="228.8" y="284.6" width="0.8" height="0.8" fill="#7465d8" fill-opacity="0.7"/>
<rect x="236.7" y="288.7" width="0.8" height="0.8" fill="#7465d8" fill-opacity="0.7"/>
<rect x="210.7" y="286.8" width="0.8" height="0.8" fill="#7465d8" fill-opacity="0.7"/>
<rect x="245.8" y="288.9" width="0.8" height="0.8" fill="#7465d8" fill-opacity="0.7"/>
<rect x="224.6" y="288.6" width="0.8" height="0.8" fill="#7465d8" fill-opacity="0.7"/>
<rect x="231.7" y="283.6" width="0.8" height="0.8" fill="#7465d8" fill-opacity="0.7"/>
<rect x="241.3" y="288.3" width="0.8" height="0.8" fill="#7465d8" fill-opacity="0.7"/>
<rect x="206.9" y="290.7" width="0.8" height="0.8" fill="#7465d8" fill-opacity="0.7"/>
<rect x="226.7" y="295.2" width="0.8" height="0.8" fill="#7465d8" fill-opacity="0.7"/>
<rect x="222.8" y="285.2" width="0.8" height="0.8" fill="#7465d8" fill-opacity="0.7"/>
<rect x="217.7" y="285.0" width="0.8" height="0.8" fill="#7465d8" fill-opacity="0.7"/>
<rect x="230.2" y="287.4" width="0.8" height="0.8" fill="#7465d8" fill-opacity="0.7"/>
<rect x="238.5" y="285.6" width="0.8" height="0.8" fill="#7465d8" fill-opacity="0.7"/>
<rect x="221.0" y="285.7" width="0.8" height="0.8" fill="#7465d8" fill-opacity="0.7"/>
<rect x="242.9" y="291.3" width="0.8" height="0.8" fill="#7465d8" fill-opacity="0.7"/>
<rect x="223.1" y="284.1" width="0.8" height="0.8" fill="#7465d8" fill-opacity="0.7"/>
<rect x="242.1" y="289.4" width="0.8" height="0.8" fill="#7465d8" fill-opacity="0.7"/>
<rect x="209.8" y="292.8" width="0.8" height="0.8" fill="#7465d8" fill-opacity="0.7"/>
<rect x="240.6" y="286.9" width="0.8" height="0.8" fill="#7465d8" fill-opacity="0.7"/>
<rect x="235.5" y="294.9" width="0.8" height="0.8" fill="#7465d8" fill-opacity="0.7"/>
<rect x="232.9" y="294.0" width="0.8" height="0.8" fill="#7465d8" fill-opacity="0.7"/>
<rect x="228.0" y="290.8" width="0.8" height="0.8" fill="#7465d8" fill-opacity="0.7"/>
<rect x="213.6" y="287.8" width="0.8" height="0.8" fill="#7465d8" fill-opacity="0.7"/>
<rect x="219.2" y="287.7" width="0.8" height="0.8" fill="#7465d8" fill-opacity="0.7"/>
<rect x="226.4" y="292.6" width="0.8" height="0.8" fill="#7465d8" fill-opacity="0.7"/>
<rect x="236.0" y="292.1" width="0.8" height="0.8" fill="#7465d8" fill-opacity="0.7"/>
<rect x="229.1" y="294.0" width="0.8" height="0.8" fill="#7465d8" fill-opacity="0.7"/>
<rect x="221.5" y="290.9" width="0.8" height="0.8" fill="#7465d8" fill-opacity="0.7"/>
<rect x="235.4" y="289.8" width="0.8" height="0.8" fill="#7465d8" fill-opacity="0.7"/>
<rect x="209.3" y="287.3" width="0.8" height="0.8" fill="#7465d8" fill-opacity="0.7"/>
<rect x="231.0" y="293.4" width="0.8" height="0.8" fill="#7465d8" fill-opacity="0.7"/>
<rect x="236.9" y="286.6" width="0.8" height="0.8" fill="#7465d8" fill-opacity="0.7"/>
<rect x="238.6" y="292.0" width="0.8" height="0.8" fill="#7465d8" fill-opacity="0.7"/>
<rect x="235.8" y="294.6" width="0.8" height="0.8" fill="#7465d8" fill-opacity="0.7"/>
<rect x="238.0" y="291.2" width="0.8" height="0.8" fill="#7465d8" fill-opacity="0.7"/>
<rect x="214.7" y="289.8" width="0.8" height="0.8" fill="#7465d8" fill-opacity="0.7"/>
<rect x="248.4" y="290.2" width="0.8" height="0.8" fill="#7465d8" fill-opacity="0.7"/>
<rect x="222.7" y="284.7" width="0.8" height="0.8" fill="#7465d8" fill-opacity="0.7"/>
<rect x="234.2" y="295.5" width="0.8" height="0.8" fill="#7465d8" fill-opacity="0.7"/>
<rect x="245.5" y="291.2" width="0.8" height="0.8" fill="#7465d8" fill-opacity="0.7"/>
<rect x="222.5" y="283.6" width="0.8" height="0.8" fill="#7465d8" fill-opacity="0.7"/>
<rect x="235.8" y="290.3" width="0.8" height="0.8" fill="#7465d8" fill-opacity="0.7"/>
<rect x="237.0" y="287.6" width="0.8" height="0.8" fill="#7465d8" fill-opacity="0.7"/>
<rect x="218.9" y="286.0" width="0.8" height="0.8" fill="#7465d8" fill-opacity="0.7"/>
<rect x="232.9" y="295.5" width="0.8" height="0.8" fill="#7465d8" fill-opacity="0.7"/>
<rect x="212.9" y="291.5" width="0.8" height="0.8" fill="#7465d8" fill-opacity="0.7"/>
<rect x="239.2" y="285.4" width="0.8" height="0.8" fill="#7465d8" fill-opacity="0.7"/>
<rect x="208.3" y="290.5" width="0.8" height="0.8" fill="#7465d8" fill-opacity="0.7"/>
<rect x="237.5" y="288.3" width="0.8" height="0.8" fill="#7465d8" fill-opacity="0.7"/>
<rect x="224.2" y="289.9" width="0.8" height="0.8" fill="#7465d8" fill-opacity="0.7"/>
<rect x="245.3" y="286.5" width="0.8" height="0.8" fill="#7465d8" fill-opacity="0.7"/>
<rect x="217.9" y="291.1" width="0.8" height="0.8" fill="#7465d8" fill-opacity="0.7"/>
<rect x="230.3" y="291.1" width="0.8" height="0.8" fill="#7465d8" fill-opacity="0.7"/>
<rect x="213.6" y="284.9" width="0.8" height="0.8" fill="#7465d8" fill-opacity="0.7"/>
<rect x="231.7" y="291.7" width="0.8" height="0.8" fill="#7465d8" fill-opacity="0.7"/>
<rect x="235.9" y="292.9" width="0.8" height="0.8" fill="#7465d8" fill-opacity="0.7"/>
<rect x="208.2" y="289.3" width="0.8" height="0.8" fill="#7465d8" fill-opacity="0.7"/>
<rect x="219.5" y="294.8" width="0.8" height="0.8" fill="#7465d8" fill-opacity="0.7"/>
<rect x="233.9" y="295.9" width="0.8" height="0.8" fill="#7465d8" fill-opacity="0.7"/>
<rect x="215.6" y="292.5" width="0.8" height="0.8" fill="#7465d8" fill-opacity="0.7"/>
<rect x="242.5" y="289.2" width="0.8" height="0.8" fill="#7465d8" fill-opacity="0.7"/>
<rect x="212.2" y="291.2" width="0.8" height="0.8" fill="#7465d8" fill-opacity="0.7"/>
<rect x="210.1" y="293.4" width="0.8" height="0.8" fill="#7465d8" fill-opacity="0.7"/>
<rect x="237.9" y="294.2" width="0.8" height="0.8" fill="#7465d8" fill-opacity="0.7"/>
<rect x="240.9" y="292.7" width="0.8" height="0.8" fill="#7465d8" fill-opacity="0.7"/>
<rect x="222.0" y="288.9" width="0.8" height="0.8" fill="#7465d8" fill-opacity="0.7"/>
<rect x="235.4" y="293.1" width="0.8" height="0.8" fill="#7465d8" fill-opacity="0.7"/>
<rect x="209.2" y="288.0" width="0.8" height="0.8" fill="#7465d8" fill-opacity="0.7"/>
<rect x="229.4" y="287.6" width="0.8" height="0.8" fill="#7465d8" fill-opacity="0.7"/>
<rect x="210.7" y="291.0" width="0.8" height="0.8" fill="#7465d8" fill-opacity="0.7"/>
<rect x="222.0" y="292.3" width="0.8" height="0.8" fill="#7465d8" fill-opacity="0.7"/>
<rect x="227.3" y="296.4" width="0.8" height="0.8" fill="#7465d8" fill-opacity="0.7"/>
<rect x="238.9" y="292.8" width="0.8" height="0.8" fill="#7465d8" fill-opacity="0.7"/>
<rect x="218.5" y="283.8" width="0.8" height="0.8" fill="#7465d8" fill-opacity="0.7"/>
<rect x="226.6" y="287.3" width="0.8" height="0.8" fill="#7465d8" fill-opacity="0.7"/>
<rect x="222.3" y="286.4" width="0.8" height="0.8" fill="#7465d8" fill-opacity="0.7"/>
<rect x="227.4" y="292.5" width="0.8" height="0.8" fill="#7465d8" fill-opacity="0.7"/>
<rect x="259.0" y="281.5" width="0.8" height="0.8" fill="#7465d8" fill-opacity="0.7"/>
<rect x="253.1" y="278.4" width="0.8" height="0.8" fill="#7465d8" fill-opacity="0.7"/>
<rect x="259.7" y="280.8" width="0.8" height="0.8" fill="#7465d8" fill-opacity="0.7"/>
<rect x="250.1" y="279.5" width="0.8" height="0.8" fill="#7465d8" fill-opacity="0.7"/>
<rect x="252.4" y="282.7" width="0.8" height="0.8" fill="#7465d8" fill-opacity="0.7"/>
<rect x="250.4" y="277.5" width="0.8" height="0.8" fill="#7465d8" fill-opacity="0.7"/>
<rect x="250.7" y="280.2" width="0.8" height="0.8" fill="#7465d8" fill-opacity="0.7"/>
<rect x="261.3" y="281.0" width="0.8" height="0.8" fill="#7465d8" fill-opacity="0.7"/>
<rect x="250.6" y="278.6" width="0.8" height="0.8" fill="#7465d8" fill-opacity="0.7"/>
<rect x="258.7" y="278.7" width="0.8" height="0.8" fill="#7465d8" fill-opacity="0.7"/>
<rect x="255.0" y="279.0" width="0.8" height="0.8" fill="#7465d8" fill-opacity="0.7"/>
<rect x="255.7" y="274.7" width="0.8" height="0.8" fill="#7465d8" fill-opacity="0.7"/>
<rect x="254.8" y="280.1" width="0.8" height="0.8" fill="#7465d8" fill-opacity="0.7"/>
<rect x="250.5" y="277.6" width="0.8" height="0.8" fill="#7465d8" fill-opacity="0.7"/>
<rect x="255.6" y="274.7" width="0.8" height="0.8" fill="#7465d8" fill-opacity="0.7"/>
<rect x="254.2" y="284.1" width="0.8" height="0.8" fill="#7465d8" fill-opacity="0.7"/>
<rect x="254.7" y="281.7" width="0.8" height="0.8" fill="#7465d8" fill-opacity="0.7"/>
<rect x="260.3" y="282.4" width="0.8" height="0.8" fill="#7465d8" fill-opacity="0.7"/>
<rect x="257.1" y="274.5" width="0.8" height="0.8" fill="#7465d8" fill-opacity="0.7"/>
<rect x="254.5" y="285.4" width="0.8" height="0.8" fill="#7465d8" fill-opacity="0.7"/>
<rect x="251.3" y="284.2" width="0.8" height="0.8" fill="#7465d8" fill-opacity="0.7"/>
<text x="334.8" y="250.4" font-size="7" text-anchor="start" font-weight="normal" fill="#000">Relative</text>
<text x="334.8" y="258.7" font-size="7" text-anchor="start" font-weight="normal" fill="#000">expression</text>
<text x="334.8" y="267.1" font-size="7" text-anchor="start" font-weight="normal" fill="#000">intensity</text>
<defs><linearGradient id="cb" x1="0" y1="1" x2="0" y2="0"><stop offset="0" stop-color="#d9d9d9"/><stop offset="1" stop-color="#0000ff"/></linearGradient></defs>
<rect x="340.5" y="281.2" width="2.8" height="46.6" fill="url(#cb)" stroke="none" stroke-width="0"/>
<text x="347" y="330" font-size="7" text-anchor="start" font-weight="normal" fill="#000">0</text>
<text x="347" y="319" font-size="7" text-anchor="start" font-weight="normal" fill="#000">1</text>
<text x="347" y="308.7" font-size="7" text-anchor="start" font-weight="normal" fill="#000">2</text>
<text x="347" y="297.2" font-size="7" text-anchor="start" font-weight="normal" fill="#000">3</text>
<text x="347" y="286.6" font-size="7" text-anchor="start" font-weight="normal" fill="#000">4</text>
<text x="398" y="8" font-size="10" text-anchor="start" font-weight="bold" fill="#000">b</text>
<text x="465.1" y="31.7" font-size="7" text-anchor="start" font-weight="normal" fill="#222">ACE2</text>
<rect x="488.5" y="23" width="10.2" height="10.6" fill="#11509b" stroke="none" stroke-width="0"/>
<text x="535.9" y="30.7" font-size="7" text-anchor="start" font-weight="normal" fill="#222">TMPRSS2</text>
<rect x="574.2" y="21.6" width="10.7" height="10.4" fill="#e60000" stroke="none" stroke-width="0"/>
<line x1="421.5" y1="139.4" x2="684" y2="139.4" stroke="#c4c4c4" stroke-width="0.9"/>
<line x1="418.8" y1="139.4" x2="421.5" y2="139.4" stroke="#c4c4c4" stroke-width="0.9"/>
<text x="417.5" y="141.9" font-size="7" text-anchor="end" font-weight="normal" fill="#333">0</text>
<line x1="421.5" y1="115.7" x2="684" y2="115.7" stroke="#c4c4c4" stroke-width="0.9"/>
<line x1="418.8" y1="115.7" x2="421.5" y2="115.7" stroke="#c4c4c4" stroke-width="0.9"/>
<text x="417.5" y="118.2" font-size="7" text-anchor="end" font-weight="normal" fill="#333">10</text>
<line x1="421.5" y1="92.0" x2="684" y2="92.0" stroke="#c4c4c4" stroke-width="0.9"/>
<line x1="418.8" y1="92.0" x2="421.5" y2="92.0" stroke="#c4c4c4" stroke-width="0.9"/>
<text x="417.5" y="94.5" font-size="7" text-anchor="end" font-weight="normal" fill="#333">20</text>
<line x1="421.5" y1="68.3" x2="684" y2="68.3" stroke="#c4c4c4" stroke-width="0.9"/>
<line x1="418.8" y1="68.3" x2="421.5" y2="68.3" stroke="#c4c4c4" stroke-width="0.9"/>
<text x="417.5" y="70.8" font-size="7" text-anchor="end" font-weight="normal" fill="#333">30</text>
<line x1="421.5" y1="50.7" x2="421.5" y2="144" stroke="#d0d0d0" stroke-width="0.9"/>
<line x1="421.5" y1="143.7" x2="684" y2="143.7" stroke="#d0d0d0" stroke-width="0.9"/>
<line x1="684.2" y1="50.7" x2="684.2" y2="144" stroke="#d0d0d0" stroke-width="0.9"/>
<text x="405.8" y="95" font-size="7.5" text-anchor="middle" font-weight="normal" fill="#222" transform="rotate(-90 405.8 95)">Ratio</text>
<rect x="424.3" y="50.9" width="19.3" height="3.1999999999999984" fill="#11509b" stroke="none" stroke-width="0"/>
<rect x="424.3" y="53.8" width="19.3" height="85.60000000000001" fill="#e60000" stroke="none" stroke-width="0"/>
<line x1="433.95" y1="143.7" x2="433.95" y2="145.6" stroke="#bbb" stroke-width="0.9"/>
<text x="438.55" y="149.5" font-size="7.4" text-anchor="end" font-weight="normal" fill="#333" transform="rotate(-60 438.55 149.5)">AT2 Cells</text>
<rect x="445.90000000000003" y="57.4" width="19.3" height="1.8" fill="#11509b" stroke="none" stroke-width="0"/>
<rect x="445.90000000000003" y="58.9" width="19.3" height="80.5" fill="#e60000" stroke="none" stroke-width="0"/>
<line x1="455.55" y1="143.7" x2="455.55" y2="145.6" stroke="#bbb" stroke-width="0.9"/>
<text x="460.15" y="149.5" font-size="7.4" text-anchor="end" font-weight="normal" fill="#333" transform="rotate(-60 460.15 149.5)">AT1 Cells</text>
<rect x="467.5" y="75.9" width="19.3" height="3.099999999999997" fill="#11509b" stroke="none" stroke-width="0"/>
<rect x="467.5" y="78.7" width="19.3" height="60.7" fill="#e60000" stroke="none" stroke-width="0"/>
<line x1="477.15" y1="143.7" x2="477.15" y2="145.6" stroke="#bbb" stroke-width="0.9"/>
<text x="481.75" y="149.5" font-size="7.4" text-anchor="end" font-weight="normal" fill="#333" transform="rotate(-60 481.75 149.5)">Ciliated Cells</text>
<rect x="489.1" y="80.6" width="19.3" height="1.9000000000000086" fill="#11509b" stroke="none" stroke-width="0"/>
<rect x="489.1" y="82.2" width="19.3" height="57.2" fill="#e60000" stroke="none" stroke-width="0"/>
<line x1="498.75" y1="143.7" x2="498.75" y2="145.6" stroke="#bbb" stroke-width="0.9"/>
<text x="503.35" y="149.5" font-size="7.4" text-anchor="end" font-weight="normal" fill="#333" transform="rotate(-60 503.35 149.5)">Club Cells</text>
<rect x="510.70000000000005" y="122.9" width="19.3" height="16.5" fill="#e60000" stroke="none" stroke-width="0"/>
<line x1="520.35" y1="143.7" x2="520.35" y2="145.6" stroke="#bbb" stroke-width="0.9"/>
<text x="524.95" y="149.5" font-size="7.4" text-anchor="end" font-weight="normal" fill="#333" transform="rotate(-60 524.95 149.5)">Plasma Cells</text>
<rect x="532.3" y="129.4" width="19.3" height="1.7000000000000057" fill="#11509b" stroke="none" stroke-width="0"/>
<rect x="532.3" y="130.8" width="19.3" height="8.599999999999994" fill="#e60000" stroke="none" stroke-width="0"/>
<line x1="541.9499999999999" y1="143.7" x2="541.9499999999999" y2="145.6" stroke="#bbb" stroke-width="0.9"/>
<text x="546.55" y="149.5" font-size="7.4" text-anchor="end" font-weight="normal" fill="#333" transform="rotate(-60 546.55 149.5)">Fibroblasts</text>
<rect x="553.9000000000001" y="131.8" width="19.3" height="1.4999999999999887" fill="#11509b" stroke="none" stroke-width="0"/>
<rect x="553.9000000000001" y="133" width="19.3" height="6.400000000000006" fill="#e60000" stroke="none" stroke-width="0"/>
<line x1="563.5500000000001" y1="143.7" x2="563.5500000000001" y2="145.6" stroke="#bbb" stroke-width="0.9"/>
<text x="568.15" y="149.5" font-size="7.4" text-anchor="end" font-weight="normal" fill="#333" transform="rotate(-60 568.15 149.5)">Endothelial/Lymphatic Cells</text>
<rect x="575.5" y="132.3" width="19.3" height="7.099999999999994" fill="#e60000" stroke="none" stroke-width="0"/>
<line x1="585.15" y1="143.7" x2="585.15" y2="145.6" stroke="#bbb" stroke-width="0.9"/>
<text x="589.75" y="149.5" font-size="7.4" text-anchor="end" font-weight="normal" fill="#333" transform="rotate(-60 589.75 149.5)">Mast Cells</text>
<rect x="597.1" y="133" width="19.3" height="6.400000000000006" fill="#e60000" stroke="none" stroke-width="0"/>
<line x1="606.75" y1="143.7" x2="606.75" y2="145.6" stroke="#bbb" stroke-width="0.9"/>
<text x="611.35" y="149.5" font-size="7.4" text-anchor="end" font-weight="normal" fill="#333" transform="rotate(-60 611.35 149.5)">Macrophages</text>
<rect x="618.7" y="134.7" width="19.3" height="4.700000000000017" fill="#e60000" stroke="none" stroke-width="0"/>
<line x1="628.35" y1="143.7" x2="628.35" y2="145.6" stroke="#bbb" stroke-width="0.9"/>
<text x="632.95" y="149.5" font-size="7.4" text-anchor="end" font-weight="normal" fill="#333" transform="rotate(-60 632.95 149.5)">T/NKT Cells</text>
<rect x="640.3" y="134.7" width="19.3" height="4.700000000000017" fill="#e60000" stroke="none" stroke-width="0"/>
<line x1="649.9499999999999" y1="143.7" x2="649.9499999999999" y2="145.6" stroke="#bbb" stroke-width="0.9"/>
<text x="654.55" y="149.5" font-size="7.4" text-anchor="end" font-weight="normal" fill="#333" transform="rotate(-60 654.55 149.5)">Monocytes</text>
<rect x="661.9000000000001" y="135.2" width="19.3" height="4.200000000000017" fill="#e60000" stroke="none" stroke-width="0"/>
<line x1="671.5500000000001" y1="143.7" x2="671.5500000000001" y2="145.6" stroke="#bbb" stroke-width="0.9"/>
<text x="676.15" y="149.5" font-size="7.4" text-anchor="end" font-weight="normal" fill="#333" transform="rotate(-60 676.15 149.5)">Dendritic Cells</text>
<text x="398.8" y="241" font-size="10" text-anchor="start" font-weight="bold" fill="#000">c</text>
<text x="447.2" y="265.7" font-size="7" text-anchor="middle" font-weight="normal" fill="#000">ACE2 positive</text>
<line x1="420.9" y1="277.2" x2="420.9" y2="355.35" stroke="#000" stroke-width="1.5"/>
<line x1="416.29999999999995" y1="277.6" x2="420.9" y2="277.6" stroke="#000" stroke-width="1.5"/>
<text x="414.69999999999993" y="280.1" font-size="7" text-anchor="end" font-weight="normal" fill="#000">4</text>
<line x1="416.29999999999995" y1="297" x2="420.9" y2="297" stroke="#000" stroke-width="1.5"/>
<text x="414.69999999999993" y="299.5" font-size="7" text-anchor="end" font-weight="normal" fill="#000">3</text>
<line x1="416.29999999999995" y1="316.3" x2="420.9" y2="316.3" stroke="#000" stroke-width="1.5"/>
<text x="414.69999999999993" y="318.8" font-size="7" text-anchor="end" font-weight="normal" fill="#000">2</text>
<line x1="416.29999999999995" y1="335.6" x2="420.9" y2="335.6" stroke="#000" stroke-width="1.5"/>
<text x="414.69999999999993" y="338.1" font-size="7" text-anchor="end" font-weight="normal" fill="#000">1</text>
<line x1="416.29999999999995" y1="354.6" x2="420.9" y2="354.6" stroke="#000" stroke-width="1.5"/>
<text x="414.69999999999993" y="357.1" font-size="7" text-anchor="end" font-weight="normal" fill="#000">0</text>
<line x1="416" y1="354.6" x2="473.7" y2="354.6" stroke="#000" stroke-width="1.5"/>
<line x1="436" y1="354.6" x2="436" y2="359.1" stroke="#000" stroke-width="1.5"/>
<line x1="458.4" y1="354.6" x2="458.4" y2="359.1" stroke="#000" stroke-width="1.5"/>
<line x1="428.4" y1="282.5" x2="464.8" y2="282.5" stroke="#444" stroke-width="0.8"/>
<text x="447" y="280.9" font-size="6.5" text-anchor="middle" font-weight="normal" fill="#000">ns</text>
<text x="405" y="317.5" font-size="7" text-anchor="middle" font-weight="normal" fill="#000" transform="rotate(-90 405 317.5)">Expression level</text>
<path d="M436.95,299.00 C436.97,300.83 437.00,306.63 437.05,310.00 C437.10,313.37 437.11,317.23 437.25,319.20 C437.39,321.17 437.62,320.73 437.90,321.80 C438.18,322.87 438.47,324.32 438.90,325.60 C439.33,326.88 439.58,328.30 440.50,329.50 C441.42,330.70 443.30,331.60 444.40,332.80 C445.50,334.00 447.10,335.50 447.10,336.70 C447.10,337.90 445.50,338.92 444.40,340.00 C443.30,341.08 441.63,342.13 440.50,343.20 C439.37,344.27 438.20,345.32 437.60,346.40 C437.00,347.48 437.23,349.70 436.90,349.70 C436.57,349.70 436.30,347.48 435.60,346.40 C434.90,345.32 433.83,344.27 432.70,343.20 C431.57,342.13 429.90,341.08 428.80,340.00 C427.70,338.92 426.10,337.90 426.10,336.70 C426.10,335.50 427.70,334.00 428.80,332.80 C429.90,331.60 431.78,330.70 432.70,329.50 C433.62,328.30 433.87,326.88 434.30,325.60 C434.73,324.32 435.02,322.87 435.30,321.80 C435.58,320.73 435.81,321.17 435.95,319.20 C436.09,317.23 436.10,313.37 436.15,310.00 C436.20,306.63 436.23,300.83 436.25,299.00 Z" fill="#ee1111" stroke="#ee1111" stroke-width="0.5"/>
<line x1="436.6" y1="299" x2="436.6" y2="319.2" stroke="#3a0a0a" stroke-opacity="0.45" stroke-width="0.7"/>
<path d="M460.85,313.30 C460.87,314.42 460.89,318.15 460.95,320.00 C461.01,321.85 461.01,323.23 461.20,324.40 C461.39,325.57 461.68,326.15 462.10,327.00 C462.52,327.85 463.00,328.43 463.70,329.50 C464.40,330.57 465.37,332.10 466.30,333.40 C467.23,334.70 468.53,336.10 469.30,337.30 C470.07,338.50 471.18,339.52 470.90,340.60 C470.62,341.68 468.68,342.83 467.60,343.80 C466.52,344.77 465.37,345.63 464.40,346.40 C463.43,347.17 462.40,347.85 461.80,348.40 C461.20,348.95 461.23,349.70 460.80,349.70 C460.37,349.70 459.90,348.95 459.20,348.40 C458.50,347.85 457.57,347.17 456.60,346.40 C455.63,345.63 454.48,344.77 453.40,343.80 C452.32,342.83 450.38,341.68 450.10,340.60 C449.82,339.52 450.93,338.50 451.70,337.30 C452.47,336.10 453.77,334.70 454.70,333.40 C455.63,332.10 456.60,330.57 457.30,329.50 C458.00,328.43 458.48,327.85 458.90,327.00 C459.32,326.15 459.61,325.57 459.80,324.40 C459.99,323.23 459.99,321.85 460.05,320.00 C460.11,318.15 460.13,314.42 460.15,313.30 Z" fill="#1010ee" stroke="#1010ee" stroke-width="0.5"/>
<line x1="460.5" y1="313.3" x2="460.5" y2="324.4" stroke="#3a0a0a" stroke-opacity="0.45" stroke-width="0.7"/>
<line x1="431" y1="336.3" x2="442.7" y2="336.3" stroke="#000" stroke-width="0.9"/>
<line x1="436.6" y1="323" x2="436.6" y2="347.7" stroke="#000" stroke-width="0.9"/>
<line x1="454.4" y1="339.5" x2="466.1" y2="339.5" stroke="#000" stroke-width="0.9"/>
<line x1="460.5" y1="328.2" x2="460.5" y2="349" stroke="#000" stroke-width="0.9"/>
<text x="435.8" y="368.3" font-size="7" text-anchor="middle" font-weight="normal" fill="#000">Male</text>
<text x="458.5" y="368.3" font-size="7" text-anchor="middle" font-weight="normal" fill="#000">Female</text>
<text x="554.7" y="266.7" font-size="7" text-anchor="middle" font-weight="normal" fill="#000">TMPRSS2 positive</text>
<line x1="525.6" y1="278" x2="525.6" y2="356.15" stroke="#000" stroke-width="1.5"/>
<line x1="521.0" y1="278" x2="525.6" y2="278" stroke="#000" stroke-width="1.5"/>
<text x="519.4" y="280.5" font-size="7" text-anchor="end" font-weight="normal" fill="#000">4</text>
<line x1="521.0" y1="297.3" x2="525.6" y2="297.3" stroke="#000" stroke-width="1.5"/>
<text x="519.4" y="299.8" font-size="7" text-anchor="end" font-weight="normal" fill="#000">3</text>
<line x1="521.0" y1="316.5" x2="525.6" y2="316.5" stroke="#000" stroke-width="1.5"/>
<text x="519.4" y="319.0" font-size="7" text-anchor="end" font-weight="normal" fill="#000">2</text>
<line x1="521.0" y1="335.8" x2="525.6" y2="335.8" stroke="#000" stroke-width="1.5"/>
<text x="519.4" y="338.3" font-size="7" text-anchor="end" font-weight="normal" fill="#000">1</text>
<line x1="521.0" y1="355.4" x2="525.6" y2="355.4" stroke="#000" stroke-width="1.5"/>
<text x="519.4" y="357.9" font-size="7" text-anchor="end" font-weight="normal" fill="#000">0</text>
<line x1="521.4" y1="355.2" x2="584.4" y2="355.2" stroke="#000" stroke-width="1.5"/>
<line x1="541.9" y1="355.2" x2="541.9" y2="359.7" stroke="#000" stroke-width="1.5"/>
<line x1="566.9" y1="355.2" x2="566.9" y2="359.7" stroke="#000" stroke-width="1.5"/>
<line x1="536.4" y1="282.5" x2="573" y2="282.5" stroke="#888" stroke-width="0.8"/>
<text x="554.9" y="283.6" font-size="6.5" text-anchor="middle" font-weight="normal" fill="#000">***</text>
<text x="509.8" y="318" font-size="7" text-anchor="middle" font-weight="normal" fill="#000" transform="rotate(-90 509.8 318)">Expression level</text>
<path d="M543.15,284.70 C543.17,286.58 543.25,292.20 543.30,296.00 C543.35,299.80 543.32,304.50 543.45,307.50 C543.58,310.50 543.82,312.08 544.10,314.00 C544.37,315.92 544.45,317.27 545.10,319.00 C545.75,320.73 546.98,322.65 548.00,324.40 C549.02,326.15 550.18,327.67 551.20,329.50 C552.22,331.33 554.32,333.65 554.10,335.40 C553.88,337.15 551.35,338.60 549.90,340.00 C548.45,341.40 546.45,342.72 545.40,343.80 C544.35,344.88 543.98,345.42 543.60,346.50 C543.22,347.58 543.37,350.30 543.10,350.30 C542.83,350.30 542.48,347.58 542.00,346.50 C541.52,345.42 541.25,344.88 540.20,343.80 C539.15,342.72 537.15,341.40 535.70,340.00 C534.25,338.60 531.72,337.15 531.50,335.40 C531.28,333.65 533.38,331.33 534.40,329.50 C535.42,327.67 536.58,326.15 537.60,324.40 C538.62,322.65 539.85,320.73 540.50,319.00 C541.15,317.27 541.23,315.92 541.50,314.00 C541.77,312.08 542.02,310.50 542.15,307.50 C542.28,304.50 542.25,299.80 542.30,296.00 C542.35,292.20 542.42,286.58 542.45,284.70 Z" fill="#ee1111" stroke="#ee1111" stroke-width="0.5"/>
<line x1="542.8" y1="284.7" x2="542.8" y2="307.5" stroke="#3a0a0a" stroke-opacity="0.45" stroke-width="0.7"/>
<path d="M567.95,304.20 C567.98,305.50 567.99,309.53 568.10,312.00 C568.21,314.47 568.25,317.17 568.60,319.00 C568.95,320.83 569.62,321.67 570.20,323.00 C570.78,324.33 571.57,325.70 572.10,327.00 C572.63,328.30 572.65,329.72 573.40,330.80 C574.15,331.88 575.80,332.63 576.60,333.50 C577.40,334.37 577.87,335.15 578.20,336.00 C578.53,336.85 579.18,337.73 578.60,338.60 C578.02,339.47 576.00,340.33 574.70,341.20 C573.40,342.07 571.82,343.00 570.80,343.80 C569.78,344.60 569.08,345.02 568.60,346.00 C568.12,346.98 568.23,349.70 567.90,349.70 C567.57,349.70 567.18,346.98 566.60,346.00 C566.02,345.02 565.42,344.60 564.40,343.80 C563.38,343.00 561.80,342.07 560.50,341.20 C559.20,340.33 557.18,339.47 556.60,338.60 C556.02,337.73 556.67,336.85 557.00,336.00 C557.33,335.15 557.80,334.37 558.60,333.50 C559.40,332.63 561.05,331.88 561.80,330.80 C562.55,329.72 562.57,328.30 563.10,327.00 C563.63,325.70 564.42,324.33 565.00,323.00 C565.58,321.67 566.25,320.83 566.60,319.00 C566.95,317.17 566.99,314.47 567.10,312.00 C567.21,309.53 567.23,305.50 567.25,304.20 Z" fill="#1010ee" stroke="#1010ee" stroke-width="0.5"/>
<line x1="567.6" y1="304.2" x2="567.6" y2="319" stroke="#3a0a0a" stroke-opacity="0.45" stroke-width="0.7"/>
<line x1="536.7" y1="332.1" x2="549" y2="332.1" stroke="#000" stroke-width="0.9"/>
<line x1="542.8" y1="285" x2="542.8" y2="347.7" stroke="#000" stroke-width="0.9"/>
<line x1="562" y1="335.4" x2="574.1" y2="335.4" stroke="#000" stroke-width="0.9"/>
<line x1="567.6" y1="317.9" x2="567.6" y2="347.7" stroke="#000" stroke-width="0.9"/>
<text x="542.2" y="368.2" font-size="7" text-anchor="middle" font-weight="normal" fill="#000">Male</text>
<text x="567.3" y="368.2" font-size="7" text-anchor="middle" font-weight="normal" fill="#000">Female</text>
<text x="602.2" y="241.5" font-size="10" text-anchor="start" font-weight="bold" fill="#000">d</text>
<text x="654.1" y="266.4" font-size="7" text-anchor="middle" font-weight="normal" fill="#000">ACE2+TMPRSS2+</text>
<line x1="625.4" y1="277.4" x2="625.4" y2="355.05" stroke="#000" stroke-width="1.5"/>
<line x1="620.8" y1="277.4" x2="625.4" y2="277.4" stroke="#000" stroke-width="1.5"/>
<text x="619.1999999999999" y="279.9" font-size="7" text-anchor="end" font-weight="normal" fill="#000">3</text>
<line x1="620.8" y1="303" x2="625.4" y2="303" stroke="#000" stroke-width="1.5"/>
<text x="619.1999999999999" y="305.5" font-size="7" text-anchor="end" font-weight="normal" fill="#000">2</text>
<line x1="620.8" y1="328.7" x2="625.4" y2="328.7" stroke="#000" stroke-width="1.5"/>
<text x="619.1999999999999" y="331.2" font-size="7" text-anchor="end" font-weight="normal" fill="#000">1</text>
<line x1="620.8" y1="354.3" x2="625.4" y2="354.3" stroke="#000" stroke-width="1.5"/>
<text x="619.1999999999999" y="356.8" font-size="7" text-anchor="end" font-weight="normal" fill="#000">0</text>
<line x1="620.5" y1="354.3" x2="684.5" y2="354.3" stroke="#000" stroke-width="1.5"/>
<line x1="641.5" y1="354.3" x2="641.5" y2="358.0" stroke="#000" stroke-width="1.5"/>
<line x1="666.2" y1="354.3" x2="666.2" y2="358.0" stroke="#000" stroke-width="1.5"/>
<rect x="634.8" y="278.4" width="13.8" height="75.4" fill="#f23c3f" stroke="#000" stroke-width="1.6"/>
<rect x="659.2" y="329.8" width="14.2" height="24" fill="#5757f2" stroke="#000" stroke-width="1.6"/>
<text x="641.7" y="368.3" font-size="7" text-anchor="middle" font-weight="normal" fill="#000">Male</text>
<text x="666.4" y="368.3" font-size="7" text-anchor="middle" font-weight="normal" fill="#000">Female</text>
<text x="608.8" y="317.1" font-size="6.7" text-anchor="middle" font-weight="normal" fill="#000" transform="rotate(-90 608.8 317.1)">Relative Frequency</text>
<text x="0" y="405" font-size="10" text-anchor="start" font-weight="bold" fill="#000">e</text>
<line x1="207.6" y1="408.1" x2="207.6" y2="637.4" stroke="#d4d4d4" stroke-width="0.9"/>
<line x1="207.6" y1="637.4" x2="353.3" y2="637.4" stroke="#d4d4d4" stroke-width="0.9"/>
<line x1="353.3" y1="408.1" x2="353.3" y2="637.4" stroke="#d4d4d4" stroke-width="0.9"/>
<line x1="204.8" y1="420.85" x2="353.3" y2="420.85" stroke="#d4d4d4" stroke-width="0.9"/>
<rect x="214" y="412.95000000000005" width="133" height="15.8" fill="#FF62BC" stroke="none" stroke-width="0"/>
<text x="204.2" y="423.45" font-size="7.4" text-anchor="end" font-weight="bold" fill="#0a0a0a">Phosphatidylcholine acyl-chain remodeling</text>
<line x1="204.8" y1="443.43" x2="353.3" y2="443.43" stroke="#d4d4d4" stroke-width="0.9"/>
<rect x="214" y="435.53000000000003" width="124.69999999999999" height="15.8" fill="#E76BF3" stroke="none" stroke-width="0"/>
<text x="204.2" y="442.23" font-size="7.4" text-anchor="end" font-weight="bold" fill="#0a0a0a">SRP-dependent cotranslational protein targeting</text>
<text x="204.2" y="449.83" font-size="7.4" text-anchor="end" font-weight="bold" fill="#0a0a0a">to membrane</text>
<line x1="204.8" y1="466.01" x2="353.3" y2="466.01" stroke="#d4d4d4" stroke-width="0.9"/>
<rect x="214" y="458.11" width="124.19999999999999" height="15.8" fill="#9590FF" stroke="none" stroke-width="0"/>
<text x="204.2" y="468.61" font-size="7.4" text-anchor="end" font-weight="bold" fill="#0a0a0a">Surfactant homeostasis</text>
<line x1="204.8" y1="488.59000000000003" x2="353.3" y2="488.59000000000003" stroke="#d4d4d4" stroke-width="0.9"/>
<rect x="214" y="480.69000000000005" width="113" height="15.8" fill="#00B0F6" stroke="none" stroke-width="0"/>
<text x="204.2" y="487.39" font-size="7.4" text-anchor="end" font-weight="bold" fill="#0a0a0a">Nuclear-transcribed mRNA catabolic process,</text>
<text x="204.2" y="494.99" font-size="7.4" text-anchor="end" font-weight="bold" fill="#0a0a0a">nonsense-mediated decay</text>
<line x1="204.8" y1="511.17" x2="353.3" y2="511.17" stroke="#d4d4d4" stroke-width="0.9"/>
<rect x="214" y="503.27000000000004" width="112" height="15.8" fill="#00BFC4" stroke="none" stroke-width="0"/>
<text x="204.2" y="513.77" font-size="7.4" text-anchor="end" font-weight="bold" fill="#0a0a0a">Viral transcription</text>
<line x1="204.8" y1="533.75" x2="353.3" y2="533.75" stroke="#d4d4d4" stroke-width="0.9"/>
<rect x="214" y="525.85" width="109.80000000000001" height="15.8" fill="#00BF7D" stroke="none" stroke-width="0"/>
<text x="204.2" y="536.35" font-size="7.4" text-anchor="end" font-weight="bold" fill="#0a0a0a">Phosphatidic acid biosynthetic process</text>
<line x1="204.8" y1="556.33" x2="353.3" y2="556.33" stroke="#d4d4d4" stroke-width="0.9"/>
<rect x="214" y="548.4300000000001" width="109.80000000000001" height="15.8" fill="#39B600" stroke="none" stroke-width="0"/>
<text x="204.2" y="555.13" font-size="7.4" text-anchor="end" font-weight="bold" fill="#0a0a0a">Low-density lipoprotein particle mediated</text>
<text x="204.2" y="562.73" font-size="7.4" text-anchor="end" font-weight="bold" fill="#0a0a0a">signaling</text>
<line x1="204.8" y1="578.9100000000001" x2="353.3" y2="578.9100000000001" stroke="#d4d4d4" stroke-width="0.9"/>
<rect x="214" y="571.0100000000001" width="109.80000000000001" height="15.8" fill="#A3A500" stroke="none" stroke-width="0"/>
<text x="204.2" y="581.51" font-size="7.4" text-anchor="end" font-weight="bold" fill="#0a0a0a">Carnitine metabolic process, CoA-linked</text>
<line x1="204.8" y1="601.49" x2="353.3" y2="601.49" stroke="#d4d4d4" stroke-width="0.9"/>
<rect x="214" y="593.59" width="105.19999999999999" height="15.8" fill="#D89000" stroke="none" stroke-width="0"/>
<text x="204.2" y="604.09" font-size="7.4" text-anchor="end" font-weight="bold" fill="#0a0a0a">Translational initiation</text>
<line x1="204.8" y1="624.0699999999999" x2="353.3" y2="624.0699999999999" stroke="#d4d4d4" stroke-width="0.9"/>
<rect x="214" y="616.17" width="105.19999999999999" height="15.8" fill="#F8766D" stroke="none" stroke-width="0"/>
<text x="204.2" y="626.67" font-size="7.4" text-anchor="end" font-weight="bold" fill="#0a0a0a">Phosphatidylglycerol acyl-chain remodeling</text>
<line x1="214.0" y1="637.4" x2="214.0" y2="639" stroke="#bbb" stroke-width="0.9"/>
<text x="214.0" y="644.6" font-size="5.6" text-anchor="middle" font-weight="normal" fill="#4d4d4d">0</text>
<line x1="241.72" y1="637.4" x2="241.72" y2="639" stroke="#bbb" stroke-width="0.9"/>
<text x="241.72" y="644.6" font-size="5.6" text-anchor="middle" font-weight="normal" fill="#4d4d4d">1</text>
<line x1="269.44" y1="637.4" x2="269.44" y2="639" stroke="#bbb" stroke-width="0.9"/>
<text x="269.44" y="644.6" font-size="5.6" text-anchor="middle" font-weight="normal" fill="#4d4d4d">2</text>
<line x1="297.15999999999997" y1="637.4" x2="297.15999999999997" y2="639" stroke="#bbb" stroke-width="0.9"/>
<text x="297.16" y="644.6" font-size="5.6" text-anchor="middle" font-weight="normal" fill="#4d4d4d">3</text>
<line x1="324.88" y1="637.4" x2="324.88" y2="639" stroke="#bbb" stroke-width="0.9"/>
<text x="324.88" y="644.6" font-size="5.6" text-anchor="middle" font-weight="normal" fill="#4d4d4d">4</text>
<line x1="352.6" y1="637.4" x2="352.6" y2="639" stroke="#bbb" stroke-width="0.9"/>
<text x="352.6" y="644.6" font-size="5.6" text-anchor="middle" font-weight="normal" fill="#4d4d4d">5</text>
<text x="280.6" y="652.5" font-size="7.6" text-anchor="middle" font-weight="bold" fill="#111">-<tspan font-style="italic">log</tspan><tspan font-size="5.4" dy="2">10</tspan><tspan dy="-2">(</tspan><tspan font-style="italic">p</tspan>-value)</text>
<text x="399.2" y="404.7" font-size="10" text-anchor="start" font-weight="bold" fill="#000">f</text>
<text x="447.8" y="408.3" font-size="7" text-anchor="middle" font-weight="normal" fill="#000">ACE2 mRNA</text>
<line x1="421.2" y1="419.3" x2="421.2" y2="497.35" stroke="#000" stroke-width="1.5"/>
<line x1="416.59999999999997" y1="419.3" x2="421.2" y2="419.3" stroke="#000" stroke-width="1.5"/>
<text x="414.99999999999994" y="421.8" font-size="7" text-anchor="end" font-weight="normal" fill="#000">3</text>
<line x1="416.59999999999997" y1="445.3" x2="421.2" y2="445.3" stroke="#000" stroke-width="1.5"/>
<text x="414.99999999999994" y="447.8" font-size="7" text-anchor="end" font-weight="normal" fill="#000">2</text>
<line x1="416.59999999999997" y1="471.1" x2="421.2" y2="471.1" stroke="#000" stroke-width="1.5"/>
<text x="414.99999999999994" y="473.6" font-size="7" text-anchor="end" font-weight="normal" fill="#000">1</text>
<line x1="416.59999999999997" y1="496.6" x2="421.2" y2="496.6" stroke="#000" stroke-width="1.5"/>
<text x="414.99999999999994" y="499.1" font-size="7" text-anchor="end" font-weight="normal" fill="#000">0</text>
<line x1="416.6" y1="496.6" x2="475.2" y2="496.6" stroke="#000" stroke-width="1.5"/>
<line x1="436.4" y1="496.6" x2="436.4" y2="501.6" stroke="#000" stroke-width="1.5"/>
<line x1="459.4" y1="496.6" x2="459.4" y2="501.6" stroke="#000" stroke-width="1.5"/>
<line x1="425.8" y1="433.6" x2="462.4" y2="433.6" stroke="#000" stroke-width="0.7"/>
<text x="444.4" y="432.6" font-size="7" text-anchor="middle" font-weight="normal" fill="#000">ns</text>
<rect x="429.8" y="470.4" width="13.2" height="26.2" fill="#f23c3f" stroke="#000" stroke-width="1.6"/>
<rect x="452.9" y="471" width="13.0" height="25.6" fill="#5757f2" stroke="#000" stroke-width="1.6"/>
<circle cx="433.1" cy="465.6" r="3.2" fill="#fff" stroke="#000" stroke-width="1.5"/>
<circle cx="439.0" cy="469.5" r="3.2" fill="#fff" stroke="#000" stroke-width="1.5"/>
<circle cx="440.4" cy="473.3" r="3.2" fill="#fff" stroke="#000" stroke-width="1.5"/>
<circle cx="434.0" cy="470.5" r="3.2" fill="#fff" stroke="#000" stroke-width="1.5"/>
<circle cx="457.8" cy="460.5" r="3.2" fill="#fff" stroke="#000" stroke-width="1.5"/>
<circle cx="461.9" cy="463.3" r="3.2" fill="#fff" stroke="#000" stroke-width="1.5"/>
<circle cx="455.1" cy="473.3" r="3.2" fill="#fff" stroke="#000" stroke-width="1.5"/>
<circle cx="462.8" cy="478.8" r="3.2" fill="#fff" stroke="#000" stroke-width="1.5"/>
<line x1="436.4" y1="468.2" x2="436.4" y2="470.4" stroke="#000" stroke-width="1.3"/>
<line x1="433.9" y1="468.2" x2="438.9" y2="468.2" stroke="#000" stroke-width="1.3"/>
<line x1="459.4" y1="465.5" x2="459.4" y2="471" stroke="#000" stroke-width="1.3"/>
<line x1="456.4" y1="465.5" x2="462.4" y2="465.5" stroke="#000" stroke-width="1.3"/>
<text x="436.4" y="510.5" font-size="7" text-anchor="middle" font-weight="normal" fill="#000">Male</text>
<text x="460.0" y="510.5" font-size="7" text-anchor="middle" font-weight="normal" fill="#000">Female</text>
<text x="406.0" y="459.6" font-size="6.8" text-anchor="middle" font-weight="normal" fill="#000" transform="rotate(-90 406.0 459.6)">(Fold change)</text>
<text x="557" y="408.9" font-size="7" text-anchor="middle" font-weight="normal" fill="#000">TMPRSS2 mRNA</text>
<line x1="529.3" y1="420.2" x2="529.3" y2="498.25" stroke="#000" stroke-width="1.5"/>
<line x1="524.6999999999999" y1="420.2" x2="529.3" y2="420.2" stroke="#000" stroke-width="1.5"/>
<text x="523.0999999999999" y="422.7" font-size="7" text-anchor="end" font-weight="normal" fill="#000">3</text>
<line x1="524.6999999999999" y1="446.2" x2="529.3" y2="446.2" stroke="#000" stroke-width="1.5"/>
<text x="523.0999999999999" y="448.7" font-size="7" text-anchor="end" font-weight="normal" fill="#000">2</text>
<line x1="524.6999999999999" y1="471.9" x2="529.3" y2="471.9" stroke="#000" stroke-width="1.5"/>
<text x="523.0999999999999" y="474.4" font-size="7" text-anchor="end" font-weight="normal" fill="#000">1</text>
<line x1="524.6999999999999" y1="497.5" x2="529.3" y2="497.5" stroke="#000" stroke-width="1.5"/>
<text x="523.0999999999999" y="500.0" font-size="7" text-anchor="end" font-weight="normal" fill="#000">0</text>
<line x1="524.7" y1="497.5" x2="583.9" y2="497.5" stroke="#000" stroke-width="1.5"/>
<line x1="545.6" y1="497.5" x2="545.6" y2="502.5" stroke="#000" stroke-width="1.5"/>
<line x1="568.3" y1="497.5" x2="568.3" y2="502.5" stroke="#000" stroke-width="1.5"/>
<line x1="540.7" y1="434" x2="576.9" y2="434" stroke="#000" stroke-width="0.7"/>
<text x="558.8" y="433" font-size="7" text-anchor="middle" font-weight="normal" fill="#000">ns</text>
<rect x="539.3" y="468.4" width="13.2" height="29.1" fill="#f23c3f" stroke="#000" stroke-width="1.6"/>
<rect x="562.2" y="473.3" width="12.8" height="24.2" fill="#5757f2" stroke="#000" stroke-width="1.6"/>
<circle cx="545.8" cy="461.4" r="3.2" fill="#fff" stroke="#000" stroke-width="1.5"/>
<circle cx="542.1" cy="466.9" r="3.2" fill="#fff" stroke="#000" stroke-width="1.5"/>
<circle cx="547.6" cy="470.6" r="3.2" fill="#fff" stroke="#000" stroke-width="1.5"/>
<circle cx="544.0" cy="471.5" r="3.2" fill="#fff" stroke="#000" stroke-width="1.5"/>
<circle cx="566.3" cy="470.6" r="3.2" fill="#fff" stroke="#000" stroke-width="1.5"/>
<circle cx="570.5" cy="473.9" r="3.2" fill="#fff" stroke="#000" stroke-width="1.5"/>
<circle cx="568.5" cy="472.0" r="3.2" fill="#fff" stroke="#000" stroke-width="1.5"/>
<circle cx="572.0" cy="472.5" r="3.2" fill="#fff" stroke="#000" stroke-width="1.5"/>
<line x1="545.6" y1="464.7" x2="545.6" y2="468.4" stroke="#000" stroke-width="1.3"/>
<line x1="542.6" y1="464.7" x2="548.6" y2="464.7" stroke="#000" stroke-width="1.3"/>
<line x1="568.3" y1="471.8" x2="568.3" y2="473.3" stroke="#000" stroke-width="1.3"/>
<line x1="565.8" y1="471.8" x2="570.8" y2="471.8" stroke="#000" stroke-width="1.3"/>
<text x="545.5" y="511.9" font-size="7" text-anchor="middle" font-weight="normal" fill="#000">Male</text>
<text x="567.8" y="511.9" font-size="7" text-anchor="middle" font-weight="normal" fill="#000">Female</text>
<text x="513.5" y="460.5" font-size="6.7" text-anchor="middle" font-weight="normal" fill="#000" transform="rotate(-90 513.5 460.5)">Fold change</text>
<text x="398" y="524.5" font-size="10" text-anchor="start" font-weight="bold" fill="#000">g</text>
<text x="447.8" y="538" font-size="7" text-anchor="middle" font-weight="normal" fill="#000">ACE2 activity</text>
<line x1="421.2" y1="550.5" x2="421.2" y2="628.15" stroke="#000" stroke-width="1.5"/>
<line x1="416.59999999999997" y1="550.5" x2="421.2" y2="550.5" stroke="#000" stroke-width="1.5"/>
<text x="414.99999999999994" y="553.0" font-size="7" text-anchor="end" font-weight="normal" fill="#000">600</text>
<line x1="416.59999999999997" y1="576" x2="421.2" y2="576" stroke="#000" stroke-width="1.5"/>
<text x="414.99999999999994" y="578.5" font-size="7" text-anchor="end" font-weight="normal" fill="#000">400</text>
<line x1="416.59999999999997" y1="601.9" x2="421.2" y2="601.9" stroke="#000" stroke-width="1.5"/>
<text x="414.99999999999994" y="604.4" font-size="7" text-anchor="end" font-weight="normal" fill="#000">200</text>
<line x1="416.59999999999997" y1="627.4" x2="421.2" y2="627.4" stroke="#000" stroke-width="1.5"/>
<text x="414.99999999999994" y="629.9" font-size="7" text-anchor="end" font-weight="normal" fill="#000">0</text>
<line x1="416" y1="627.4" x2="474.8" y2="627.4" stroke="#000" stroke-width="1.5"/>
<line x1="436.3" y1="627.4" x2="436.3" y2="632.4" stroke="#000" stroke-width="1.5"/>
<line x1="459.4" y1="627.4" x2="459.4" y2="632.4" stroke="#000" stroke-width="1.5"/>
<line x1="425.8" y1="551.3" x2="462" y2="551.3" stroke="#000" stroke-width="0.7"/>
<text x="443.9" y="550.3" font-size="7" text-anchor="middle" font-weight="normal" fill="#000">ns</text>
<rect x="430.3" y="583.5" width="12.4" height="43.9" fill="#f23c3f" stroke="#000" stroke-width="1.6"/>
<rect x="453.4" y="588.2" width="12.0" height="39.2" fill="#5757f2" stroke="#000" stroke-width="1.6"/>
<circle cx="434" cy="575.7" r="3.2" fill="#fff" stroke="#000" stroke-width="1.5"/>
<circle cx="438.8" cy="575.7" r="3.2" fill="#fff" stroke="#000" stroke-width="1.5"/>
<circle cx="432.6" cy="581.9" r="3.2" fill="#fff" stroke="#000" stroke-width="1.5"/>
<circle cx="435.7" cy="589" r="3.2" fill="#fff" stroke="#000" stroke-width="1.5"/>
<circle cx="439.8" cy="591.5" r="3.2" fill="#fff" stroke="#000" stroke-width="1.5"/>
<circle cx="459" cy="565.4" r="3.2" fill="#fff" stroke="#000" stroke-width="1.5"/>
<circle cx="459" cy="581.2" r="3.2" fill="#fff" stroke="#000" stroke-width="1.5"/>
<circle cx="455.3" cy="594.2" r="3.2" fill="#fff" stroke="#000" stroke-width="1.5"/>
<circle cx="459" cy="596.3" r="3.2" fill="#fff" stroke="#000" stroke-width="1.5"/>
<circle cx="462.5" cy="601.4" r="3.2" fill="#fff" stroke="#000" stroke-width="1.5"/>
<line x1="436.3" y1="579.8" x2="436.3" y2="583.5" stroke="#000" stroke-width="1.3"/>
<line x1="433.8" y1="579.8" x2="438.8" y2="579.8" stroke="#000" stroke-width="1.3"/>
<line x1="459.4" y1="581.4" x2="459.4" y2="588.2" stroke="#000" stroke-width="1.3"/>
<line x1="456.4" y1="581.4" x2="462.4" y2="581.4" stroke="#000" stroke-width="1.3"/>
<text x="436.2" y="640.6" font-size="7" text-anchor="middle" font-weight="normal" fill="#000">Male</text>
<text x="459.2" y="640.6" font-size="7" text-anchor="middle" font-weight="normal" fill="#000">Female</text>
<text x="397.2" y="590.6" font-size="6.6" text-anchor="middle" font-weight="normal" fill="#000" transform="rotate(-90 397.2 590.6)">RFU/hr/µg protein</text>
<text x="557.2" y="538" font-size="7" text-anchor="middle" font-weight="normal" fill="#000">TMPRSS2 activity</text>
<line x1="531.5" y1="550.3" x2="531.5" y2="628.15" stroke="#000" stroke-width="1.5"/>
<line x1="526.9" y1="550.3" x2="531.5" y2="550.3" stroke="#000" stroke-width="1.5"/>
<text x="525.3" y="552.8" font-size="7" text-anchor="end" font-weight="normal" fill="#000">400</text>
<line x1="526.9" y1="569.5" x2="531.5" y2="569.5" stroke="#000" stroke-width="1.5"/>
<text x="525.3" y="572.0" font-size="7" text-anchor="end" font-weight="normal" fill="#000">300</text>
<line x1="526.9" y1="589" x2="531.5" y2="589" stroke="#000" stroke-width="1.5"/>
<text x="525.3" y="591.5" font-size="7" text-anchor="end" font-weight="normal" fill="#000">200</text>
<line x1="526.9" y1="608.2" x2="531.5" y2="608.2" stroke="#000" stroke-width="1.5"/>
<text x="525.3" y="610.7" font-size="7" text-anchor="end" font-weight="normal" fill="#000">100</text>
<line x1="526.9" y1="627.4" x2="531.5" y2="627.4" stroke="#000" stroke-width="1.5"/>
<text x="525.3" y="629.9" font-size="7" text-anchor="end" font-weight="normal" fill="#000">0</text>
<line x1="526.4" y1="627.4" x2="584.5" y2="627.4" stroke="#000" stroke-width="1.5"/>
<line x1="546" y1="627.4" x2="546" y2="632.4" stroke="#000" stroke-width="1.5"/>
<line x1="569.1" y1="627.4" x2="569.1" y2="632.4" stroke="#000" stroke-width="1.5"/>
<line x1="536" y1="551.5" x2="572.8" y2="551.5" stroke="#000" stroke-width="0.7"/>
<text x="554.6" y="551.6" font-size="7.5" text-anchor="middle" font-weight="normal" fill="#000">*</text>
<rect x="539.6" y="580.4" width="12.8" height="47" fill="#f23c3f" stroke="#000" stroke-width="1.6"/>
<rect x="563.1" y="599" width="12.0" height="28.4" fill="#5757f2" stroke="#000" stroke-width="1.6"/>
<circle cx="546.4" cy="569.5" r="3.2" fill="#fff" stroke="#000" stroke-width="1.5"/>
<circle cx="542.3" cy="573.2" r="3.2" fill="#fff" stroke="#000" stroke-width="1.5"/>
<circle cx="549.5" cy="581.2" r="3.2" fill="#fff" stroke="#000" stroke-width="1.5"/>
<circle cx="542.3" cy="585" r="3.2" fill="#fff" stroke="#000" stroke-width="1.5"/>
<circle cx="549.5" cy="592.6" r="3.2" fill="#fff" stroke="#000" stroke-width="1.5"/>
<circle cx="565.6" cy="585" r="3.2" fill="#fff" stroke="#000" stroke-width="1.5"/>
<circle cx="570.7" cy="585" r="3.2" fill="#fff" stroke="#000" stroke-width="1.5"/>
<circle cx="566" cy="606.2" r="3.2" fill="#fff" stroke="#000" stroke-width="1.5"/>
<circle cx="572.2" cy="610.1" r="3.2" fill="#fff" stroke="#000" stroke-width="1.5"/>
<circle cx="568.5" cy="607.5" r="3.2" fill="#fff" stroke="#000" stroke-width="1.5"/>
<line x1="546" y1="576.7" x2="546" y2="580.4" stroke="#000" stroke-width="1.3"/>
<line x1="543" y1="576.7" x2="549" y2="576.7" stroke="#000" stroke-width="1.3"/>
<line x1="569.1" y1="593.2" x2="569.1" y2="599" stroke="#000" stroke-width="1.3"/>
<line x1="565.6" y1="593.2" x2="572.6" y2="593.2" stroke="#000" stroke-width="1.3"/>
<text x="546" y="640.6" font-size="7" text-anchor="middle" font-weight="normal" fill="#000">Male</text>
<text x="568.8" y="640.6" font-size="7" text-anchor="middle" font-weight="normal" fill="#000">Female</text>
<text x="508" y="590.6" font-size="6.8" text-anchor="middle" font-weight="normal" fill="#000" transform="rotate(-90 508 590.6)">(AFU/µg protein)</text>
</svg></body></html>
